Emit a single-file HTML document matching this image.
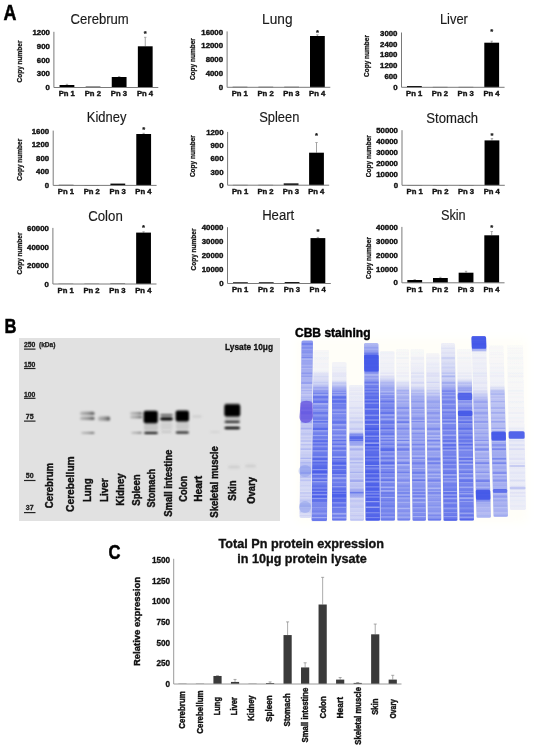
<!DOCTYPE html>
<html><head><meta charset="utf-8"><title>Figure</title>
<style>
html,body{margin:0;padding:0;background:#fff;}
svg{display:block;filter:blur(0.3px);}
text{font-family:"Liberation Sans", sans-serif;}
</style></head><body>
<svg width="550" height="748" viewBox="0 0 550 748">
<defs>
<filter id="blur1" x="-20%" y="-50%" width="140%" height="200%"><feGaussianBlur stdDeviation="1.0"/></filter>
<filter id="blur2" x="-5%" y="-5%" width="110%" height="110%"><feGaussianBlur stdDeviation="0.6"/></filter>
<filter id="blur3" x="-10%" y="-10%" width="120%" height="120%"><feGaussianBlur stdDeviation="4"/></filter>
</defs>
<rect width="550" height="748" fill="#fff"/>
<text x="3.40" y="19.80" font-size="21.2" font-weight="bold" textLength="12.90" lengthAdjust="spacingAndGlyphs" fill="#000" stroke="#000" stroke-width="0.5">A</text>
<text x="99.65" y="24.30" font-size="14" text-anchor="middle" textLength="58.30" lengthAdjust="spacingAndGlyphs" fill="#1a1a1a" stroke="#1a1a1a" stroke-width="0.15">Cerebrum</text>
<text x="49.90" y="90.00" font-size="8.1" font-weight="bold" text-anchor="end" textLength="4.36" lengthAdjust="spacingAndGlyphs" fill="#111" stroke="#111" stroke-width="0.42">0</text>
<text x="49.90" y="76.25" font-size="8.1" font-weight="bold" text-anchor="end" textLength="13.08" lengthAdjust="spacingAndGlyphs" fill="#111" stroke="#111" stroke-width="0.42">300</text>
<text x="49.90" y="62.50" font-size="8.1" font-weight="bold" text-anchor="end" textLength="13.08" lengthAdjust="spacingAndGlyphs" fill="#111" stroke="#111" stroke-width="0.42">600</text>
<text x="49.90" y="48.75" font-size="8.1" font-weight="bold" text-anchor="end" textLength="13.08" lengthAdjust="spacingAndGlyphs" fill="#111" stroke="#111" stroke-width="0.42">900</text>
<text x="49.90" y="35.00" font-size="8.1" font-weight="bold" text-anchor="end" textLength="17.44" lengthAdjust="spacingAndGlyphs" fill="#111" stroke="#111" stroke-width="0.42">1200</text>
<text transform="translate(22.30,61.50) rotate(-90)" x="0" y="0" font-size="6.5" font-weight="bold" text-anchor="middle" textLength="42.00" lengthAdjust="spacingAndGlyphs" fill="#111" stroke="#111" stroke-width="0.25">Copy number</text>
<line x1="66.95" y1="84.30" x2="66.95" y2="85.00" stroke="#999" stroke-width="0.9"/>
<line x1="65.75" y1="84.30" x2="68.15" y2="84.30" stroke="#999" stroke-width="0.8"/>
<rect x="59.55" y="85.00" width="14.80" height="2.50" fill="#000"/>
<text x="66.75" y="96.30" font-size="7.5" font-weight="bold" text-anchor="middle" textLength="16.20" lengthAdjust="spacingAndGlyphs" fill="#111" stroke="#111" stroke-width="0.4">Pn 1</text>
<rect x="85.65" y="86.60" width="14.80" height="0.90" fill="#000"/>
<text x="92.85" y="96.30" font-size="7.5" font-weight="bold" text-anchor="middle" textLength="16.20" lengthAdjust="spacingAndGlyphs" fill="#111" stroke="#111" stroke-width="0.4">Pn 2</text>
<line x1="119.15" y1="76.50" x2="119.15" y2="77.00" stroke="#999" stroke-width="0.9"/>
<line x1="117.95" y1="76.50" x2="120.35" y2="76.50" stroke="#999" stroke-width="0.8"/>
<rect x="111.75" y="77.00" width="14.80" height="10.50" fill="#000"/>
<text x="118.95" y="96.30" font-size="7.5" font-weight="bold" text-anchor="middle" textLength="16.20" lengthAdjust="spacingAndGlyphs" fill="#111" stroke="#111" stroke-width="0.4">Pn 3</text>
<line x1="145.25" y1="37.30" x2="145.25" y2="46.30" stroke="#999" stroke-width="0.9"/>
<line x1="144.05" y1="37.30" x2="146.45" y2="37.30" stroke="#999" stroke-width="0.8"/>
<rect x="137.85" y="46.30" width="14.80" height="41.20" fill="#000"/>
<text x="145.05" y="96.30" font-size="7.5" font-weight="bold" text-anchor="middle" textLength="16.20" lengthAdjust="spacingAndGlyphs" fill="#111" stroke="#111" stroke-width="0.4">Pn 4</text>
<text x="145.25" y="35.50" font-size="7.6" font-weight="bold" text-anchor="middle" fill="#111" stroke="#111" stroke-width="0.2">*</text>
<path d="M53.90,31.80 V87.50 H158.30" fill="none" stroke="#7a7a7a" stroke-width="1"/>
<text x="277.30" y="24.30" font-size="14" text-anchor="middle" textLength="30.40" lengthAdjust="spacingAndGlyphs" fill="#1a1a1a" stroke="#1a1a1a" stroke-width="0.15">Lung</text>
<text x="223.10" y="89.80" font-size="8.1" font-weight="bold" text-anchor="end" textLength="4.36" lengthAdjust="spacingAndGlyphs" fill="#111" stroke="#111" stroke-width="0.42">0</text>
<text x="223.10" y="76.00" font-size="8.1" font-weight="bold" text-anchor="end" textLength="17.44" lengthAdjust="spacingAndGlyphs" fill="#111" stroke="#111" stroke-width="0.42">4000</text>
<text x="223.10" y="62.20" font-size="8.1" font-weight="bold" text-anchor="end" textLength="17.44" lengthAdjust="spacingAndGlyphs" fill="#111" stroke="#111" stroke-width="0.42">8000</text>
<text x="223.10" y="48.40" font-size="8.1" font-weight="bold" text-anchor="end" textLength="21.80" lengthAdjust="spacingAndGlyphs" fill="#111" stroke="#111" stroke-width="0.42">12000</text>
<text x="223.10" y="34.60" font-size="8.1" font-weight="bold" text-anchor="end" textLength="21.80" lengthAdjust="spacingAndGlyphs" fill="#111" stroke="#111" stroke-width="0.42">16000</text>
<text transform="translate(194.70,59.10) rotate(-90)" x="0" y="0" font-size="6.5" font-weight="bold" text-anchor="middle" textLength="42.00" lengthAdjust="spacingAndGlyphs" fill="#111" stroke="#111" stroke-width="0.25">Copy number</text>
<rect x="232.60" y="86.80" width="14.80" height="0.50" fill="#000"/>
<text x="239.80" y="96.10" font-size="7.5" font-weight="bold" text-anchor="middle" textLength="16.20" lengthAdjust="spacingAndGlyphs" fill="#111" stroke="#111" stroke-width="0.4">Pn 1</text>
<rect x="258.40" y="86.80" width="14.80" height="0.50" fill="#000"/>
<text x="265.60" y="96.10" font-size="7.5" font-weight="bold" text-anchor="middle" textLength="16.20" lengthAdjust="spacingAndGlyphs" fill="#111" stroke="#111" stroke-width="0.4">Pn 2</text>
<rect x="284.20" y="86.80" width="14.80" height="0.50" fill="#000"/>
<text x="291.40" y="96.10" font-size="7.5" font-weight="bold" text-anchor="middle" textLength="16.20" lengthAdjust="spacingAndGlyphs" fill="#111" stroke="#111" stroke-width="0.4">Pn 3</text>
<line x1="317.40" y1="34.80" x2="317.40" y2="36.00" stroke="#999" stroke-width="0.9"/>
<line x1="316.20" y1="34.80" x2="318.60" y2="34.80" stroke="#999" stroke-width="0.8"/>
<rect x="310.00" y="36.00" width="14.80" height="51.30" fill="#000"/>
<text x="317.20" y="96.10" font-size="7.5" font-weight="bold" text-anchor="middle" textLength="16.20" lengthAdjust="spacingAndGlyphs" fill="#111" stroke="#111" stroke-width="0.4">Pn 4</text>
<text x="317.40" y="34.60" font-size="7.6" font-weight="bold" text-anchor="middle" fill="#111" stroke="#111" stroke-width="0.2">*</text>
<path d="M227.10,31.40 V87.30 H330.30" fill="none" stroke="#7a7a7a" stroke-width="1"/>
<text x="453.90" y="24.30" font-size="14" text-anchor="middle" textLength="28.00" lengthAdjust="spacingAndGlyphs" fill="#1a1a1a" stroke="#1a1a1a" stroke-width="0.15">Liver</text>
<text x="397.50" y="89.80" font-size="8.1" font-weight="bold" text-anchor="end" textLength="4.36" lengthAdjust="spacingAndGlyphs" fill="#111" stroke="#111" stroke-width="0.42">0</text>
<text x="397.50" y="78.98" font-size="8.1" font-weight="bold" text-anchor="end" textLength="13.08" lengthAdjust="spacingAndGlyphs" fill="#111" stroke="#111" stroke-width="0.42">600</text>
<text x="397.50" y="68.16" font-size="8.1" font-weight="bold" text-anchor="end" textLength="17.44" lengthAdjust="spacingAndGlyphs" fill="#111" stroke="#111" stroke-width="0.42">1200</text>
<text x="397.50" y="57.34" font-size="8.1" font-weight="bold" text-anchor="end" textLength="17.44" lengthAdjust="spacingAndGlyphs" fill="#111" stroke="#111" stroke-width="0.42">1800</text>
<text x="397.50" y="46.52" font-size="8.1" font-weight="bold" text-anchor="end" textLength="17.44" lengthAdjust="spacingAndGlyphs" fill="#111" stroke="#111" stroke-width="0.42">2400</text>
<text x="397.50" y="35.70" font-size="8.1" font-weight="bold" text-anchor="end" textLength="17.44" lengthAdjust="spacingAndGlyphs" fill="#111" stroke="#111" stroke-width="0.42">3000</text>
<text transform="translate(368.90,56.05) rotate(-90)" x="0" y="0" font-size="6.5" font-weight="bold" text-anchor="middle" textLength="42.00" lengthAdjust="spacingAndGlyphs" fill="#111" stroke="#111" stroke-width="0.25">Copy number</text>
<rect x="406.99" y="86.00" width="14.80" height="1.30" fill="#000"/>
<text x="414.19" y="96.10" font-size="7.5" font-weight="bold" text-anchor="middle" textLength="16.20" lengthAdjust="spacingAndGlyphs" fill="#111" stroke="#111" stroke-width="0.4">Pn 1</text>
<rect x="432.75" y="86.90" width="14.80" height="0.40" fill="#000"/>
<text x="439.95" y="96.10" font-size="7.5" font-weight="bold" text-anchor="middle" textLength="16.20" lengthAdjust="spacingAndGlyphs" fill="#111" stroke="#111" stroke-width="0.4">Pn 2</text>
<rect x="458.53" y="86.90" width="14.80" height="0.40" fill="#000"/>
<text x="465.73" y="96.10" font-size="7.5" font-weight="bold" text-anchor="middle" textLength="16.20" lengthAdjust="spacingAndGlyphs" fill="#111" stroke="#111" stroke-width="0.4">Pn 3</text>
<line x1="491.69" y1="41.20" x2="491.69" y2="42.70" stroke="#999" stroke-width="0.9"/>
<line x1="490.50" y1="41.20" x2="492.89" y2="41.20" stroke="#999" stroke-width="0.8"/>
<rect x="484.30" y="42.70" width="14.80" height="44.60" fill="#000"/>
<text x="491.50" y="96.10" font-size="7.5" font-weight="bold" text-anchor="middle" textLength="16.20" lengthAdjust="spacingAndGlyphs" fill="#111" stroke="#111" stroke-width="0.4">Pn 4</text>
<text x="491.69" y="34.10" font-size="7.6" font-weight="bold" text-anchor="middle" fill="#111" stroke="#111" stroke-width="0.2">*</text>
<path d="M401.50,32.50 V87.30 H504.58" fill="none" stroke="#7a7a7a" stroke-width="1"/>
<text x="106.60" y="122.20" font-size="14" text-anchor="middle" textLength="39.60" lengthAdjust="spacingAndGlyphs" fill="#1a1a1a" stroke="#1a1a1a" stroke-width="0.15">Kidney</text>
<text x="49.20" y="187.90" font-size="8.1" font-weight="bold" text-anchor="end" textLength="4.36" lengthAdjust="spacingAndGlyphs" fill="#111" stroke="#111" stroke-width="0.42">0</text>
<text x="49.20" y="174.38" font-size="8.1" font-weight="bold" text-anchor="end" textLength="13.08" lengthAdjust="spacingAndGlyphs" fill="#111" stroke="#111" stroke-width="0.42">400</text>
<text x="49.20" y="160.85" font-size="8.1" font-weight="bold" text-anchor="end" textLength="13.08" lengthAdjust="spacingAndGlyphs" fill="#111" stroke="#111" stroke-width="0.42">800</text>
<text x="49.20" y="147.33" font-size="8.1" font-weight="bold" text-anchor="end" textLength="17.44" lengthAdjust="spacingAndGlyphs" fill="#111" stroke="#111" stroke-width="0.42">1200</text>
<text x="49.20" y="133.80" font-size="8.1" font-weight="bold" text-anchor="end" textLength="17.44" lengthAdjust="spacingAndGlyphs" fill="#111" stroke="#111" stroke-width="0.42">1600</text>
<text transform="translate(21.70,159.80) rotate(-90)" x="0" y="0" font-size="6.5" font-weight="bold" text-anchor="middle" textLength="42.00" lengthAdjust="spacingAndGlyphs" fill="#111" stroke="#111" stroke-width="0.25">Copy number</text>
<rect x="58.73" y="184.80" width="14.80" height="0.60" fill="#000"/>
<text x="65.92" y="194.20" font-size="7.5" font-weight="bold" text-anchor="middle" textLength="16.20" lengthAdjust="spacingAndGlyphs" fill="#111" stroke="#111" stroke-width="0.4">Pn 1</text>
<rect x="84.58" y="185.00" width="14.80" height="0.40" fill="#000"/>
<text x="91.78" y="194.20" font-size="7.5" font-weight="bold" text-anchor="middle" textLength="16.20" lengthAdjust="spacingAndGlyphs" fill="#111" stroke="#111" stroke-width="0.4">Pn 2</text>
<rect x="110.42" y="183.60" width="14.80" height="1.80" fill="#000"/>
<text x="117.62" y="194.20" font-size="7.5" font-weight="bold" text-anchor="middle" textLength="16.20" lengthAdjust="spacingAndGlyphs" fill="#111" stroke="#111" stroke-width="0.4">Pn 3</text>
<line x1="143.68" y1="133.30" x2="143.68" y2="134.00" stroke="#999" stroke-width="0.9"/>
<line x1="142.48" y1="133.30" x2="144.88" y2="133.30" stroke="#999" stroke-width="0.8"/>
<rect x="136.28" y="134.00" width="14.80" height="51.40" fill="#000"/>
<text x="143.48" y="194.20" font-size="7.5" font-weight="bold" text-anchor="middle" textLength="16.20" lengthAdjust="spacingAndGlyphs" fill="#111" stroke="#111" stroke-width="0.4">Pn 4</text>
<text x="143.68" y="131.60" font-size="7.6" font-weight="bold" text-anchor="middle" fill="#111" stroke="#111" stroke-width="0.2">*</text>
<path d="M53.20,130.60 V185.40 H156.60" fill="none" stroke="#7a7a7a" stroke-width="1"/>
<text x="279.30" y="121.70" font-size="14" text-anchor="middle" textLength="40.10" lengthAdjust="spacingAndGlyphs" fill="#1a1a1a" stroke="#1a1a1a" stroke-width="0.15">Spleen</text>
<text x="223.60" y="187.70" font-size="8.1" font-weight="bold" text-anchor="end" textLength="4.36" lengthAdjust="spacingAndGlyphs" fill="#111" stroke="#111" stroke-width="0.42">0</text>
<text x="223.60" y="174.55" font-size="8.1" font-weight="bold" text-anchor="end" textLength="13.08" lengthAdjust="spacingAndGlyphs" fill="#111" stroke="#111" stroke-width="0.42">300</text>
<text x="223.60" y="161.40" font-size="8.1" font-weight="bold" text-anchor="end" textLength="13.08" lengthAdjust="spacingAndGlyphs" fill="#111" stroke="#111" stroke-width="0.42">600</text>
<text x="223.60" y="148.25" font-size="8.1" font-weight="bold" text-anchor="end" textLength="13.08" lengthAdjust="spacingAndGlyphs" fill="#111" stroke="#111" stroke-width="0.42">900</text>
<text x="223.60" y="135.10" font-size="8.1" font-weight="bold" text-anchor="end" textLength="17.44" lengthAdjust="spacingAndGlyphs" fill="#111" stroke="#111" stroke-width="0.42">1200</text>
<text transform="translate(195.10,156.10) rotate(-90)" x="0" y="0" font-size="6.5" font-weight="bold" text-anchor="middle" textLength="42.00" lengthAdjust="spacingAndGlyphs" fill="#111" stroke="#111" stroke-width="0.25">Copy number</text>
<rect x="232.90" y="184.90" width="14.80" height="0.30" fill="#000"/>
<text x="240.10" y="194.00" font-size="7.5" font-weight="bold" text-anchor="middle" textLength="16.20" lengthAdjust="spacingAndGlyphs" fill="#111" stroke="#111" stroke-width="0.4">Pn 1</text>
<rect x="258.30" y="184.90" width="14.80" height="0.30" fill="#000"/>
<text x="265.50" y="194.00" font-size="7.5" font-weight="bold" text-anchor="middle" textLength="16.20" lengthAdjust="spacingAndGlyphs" fill="#111" stroke="#111" stroke-width="0.4">Pn 2</text>
<rect x="283.70" y="183.40" width="14.80" height="1.80" fill="#000"/>
<text x="290.90" y="194.00" font-size="7.5" font-weight="bold" text-anchor="middle" textLength="16.20" lengthAdjust="spacingAndGlyphs" fill="#111" stroke="#111" stroke-width="0.4">Pn 3</text>
<line x1="316.50" y1="142.50" x2="316.50" y2="152.70" stroke="#999" stroke-width="0.9"/>
<line x1="315.30" y1="142.50" x2="317.70" y2="142.50" stroke="#999" stroke-width="0.8"/>
<rect x="309.10" y="152.70" width="14.80" height="32.50" fill="#000"/>
<text x="316.30" y="194.00" font-size="7.5" font-weight="bold" text-anchor="middle" textLength="16.20" lengthAdjust="spacingAndGlyphs" fill="#111" stroke="#111" stroke-width="0.4">Pn 4</text>
<text x="316.50" y="138.20" font-size="7.6" font-weight="bold" text-anchor="middle" fill="#111" stroke="#111" stroke-width="0.2">*</text>
<path d="M227.60,131.90 V185.20 H329.20" fill="none" stroke="#7a7a7a" stroke-width="1"/>
<text x="452.20" y="122.50" font-size="14" text-anchor="middle" textLength="51.70" lengthAdjust="spacingAndGlyphs" fill="#1a1a1a" stroke="#1a1a1a" stroke-width="0.15">Stomach</text>
<text x="398.00" y="187.80" font-size="8.1" font-weight="bold" text-anchor="end" textLength="4.36" lengthAdjust="spacingAndGlyphs" fill="#111" stroke="#111" stroke-width="0.42">0</text>
<text x="398.00" y="176.92" font-size="8.1" font-weight="bold" text-anchor="end" textLength="21.80" lengthAdjust="spacingAndGlyphs" fill="#111" stroke="#111" stroke-width="0.42">10000</text>
<text x="398.00" y="166.04" font-size="8.1" font-weight="bold" text-anchor="end" textLength="21.80" lengthAdjust="spacingAndGlyphs" fill="#111" stroke="#111" stroke-width="0.42">20000</text>
<text x="398.00" y="155.16" font-size="8.1" font-weight="bold" text-anchor="end" textLength="21.80" lengthAdjust="spacingAndGlyphs" fill="#111" stroke="#111" stroke-width="0.42">30000</text>
<text x="398.00" y="144.28" font-size="8.1" font-weight="bold" text-anchor="end" textLength="21.80" lengthAdjust="spacingAndGlyphs" fill="#111" stroke="#111" stroke-width="0.42">40000</text>
<text x="398.00" y="133.40" font-size="8.1" font-weight="bold" text-anchor="end" textLength="21.80" lengthAdjust="spacingAndGlyphs" fill="#111" stroke="#111" stroke-width="0.42">50000</text>
<text transform="translate(370.80,156.20) rotate(-90)" x="0" y="0" font-size="6.5" font-weight="bold" text-anchor="middle" textLength="42.00" lengthAdjust="spacingAndGlyphs" fill="#111" stroke="#111" stroke-width="0.25">Copy number</text>
<rect x="407.45" y="185.00" width="14.80" height="0.30" fill="#000"/>
<text x="414.65" y="194.10" font-size="7.5" font-weight="bold" text-anchor="middle" textLength="16.20" lengthAdjust="spacingAndGlyphs" fill="#111" stroke="#111" stroke-width="0.4">Pn 1</text>
<rect x="433.15" y="185.00" width="14.80" height="0.30" fill="#000"/>
<text x="440.35" y="194.10" font-size="7.5" font-weight="bold" text-anchor="middle" textLength="16.20" lengthAdjust="spacingAndGlyphs" fill="#111" stroke="#111" stroke-width="0.4">Pn 2</text>
<rect x="458.85" y="185.00" width="14.80" height="0.30" fill="#000"/>
<text x="466.05" y="194.10" font-size="7.5" font-weight="bold" text-anchor="middle" textLength="16.20" lengthAdjust="spacingAndGlyphs" fill="#111" stroke="#111" stroke-width="0.4">Pn 3</text>
<line x1="491.95" y1="138.60" x2="491.95" y2="140.40" stroke="#999" stroke-width="0.9"/>
<line x1="490.75" y1="138.60" x2="493.15" y2="138.60" stroke="#999" stroke-width="0.8"/>
<rect x="484.55" y="140.40" width="14.80" height="44.90" fill="#000"/>
<text x="491.75" y="194.10" font-size="7.5" font-weight="bold" text-anchor="middle" textLength="16.20" lengthAdjust="spacingAndGlyphs" fill="#111" stroke="#111" stroke-width="0.4">Pn 4</text>
<text x="491.95" y="138.20" font-size="7.6" font-weight="bold" text-anchor="middle" fill="#111" stroke="#111" stroke-width="0.2">*</text>
<path d="M402.00,130.20 V185.30 H504.80" fill="none" stroke="#7a7a7a" stroke-width="1"/>
<text x="105.50" y="220.70" font-size="14" text-anchor="middle" textLength="34.60" lengthAdjust="spacingAndGlyphs" fill="#1a1a1a" stroke="#1a1a1a" stroke-width="0.15">Colon</text>
<text x="48.90" y="286.50" font-size="8.1" font-weight="bold" text-anchor="end" textLength="4.36" lengthAdjust="spacingAndGlyphs" fill="#111" stroke="#111" stroke-width="0.42">0</text>
<text x="48.90" y="268.03" font-size="8.1" font-weight="bold" text-anchor="end" textLength="21.80" lengthAdjust="spacingAndGlyphs" fill="#111" stroke="#111" stroke-width="0.42">20000</text>
<text x="48.90" y="249.57" font-size="8.1" font-weight="bold" text-anchor="end" textLength="21.80" lengthAdjust="spacingAndGlyphs" fill="#111" stroke="#111" stroke-width="0.42">40000</text>
<text x="48.90" y="231.10" font-size="8.1" font-weight="bold" text-anchor="end" textLength="21.80" lengthAdjust="spacingAndGlyphs" fill="#111" stroke="#111" stroke-width="0.42">60000</text>
<text transform="translate(21.70,253.50) rotate(-90)" x="0" y="0" font-size="6.5" font-weight="bold" text-anchor="middle" textLength="42.00" lengthAdjust="spacingAndGlyphs" fill="#111" stroke="#111" stroke-width="0.25">Copy number</text>
<rect x="58.45" y="283.80" width="14.80" height="0.20" fill="#000"/>
<text x="65.65" y="292.80" font-size="7.5" font-weight="bold" text-anchor="middle" textLength="16.20" lengthAdjust="spacingAndGlyphs" fill="#111" stroke="#111" stroke-width="0.4">Pn 1</text>
<rect x="84.35" y="283.80" width="14.80" height="0.20" fill="#000"/>
<text x="91.55" y="292.80" font-size="7.5" font-weight="bold" text-anchor="middle" textLength="16.20" lengthAdjust="spacingAndGlyphs" fill="#111" stroke="#111" stroke-width="0.4">Pn 2</text>
<rect x="110.25" y="283.60" width="14.80" height="0.40" fill="#000"/>
<text x="117.45" y="292.80" font-size="7.5" font-weight="bold" text-anchor="middle" textLength="16.20" lengthAdjust="spacingAndGlyphs" fill="#111" stroke="#111" stroke-width="0.4">Pn 3</text>
<line x1="143.55" y1="231.80" x2="143.55" y2="232.60" stroke="#999" stroke-width="0.9"/>
<line x1="142.35" y1="231.80" x2="144.75" y2="231.80" stroke="#999" stroke-width="0.8"/>
<rect x="136.15" y="232.60" width="14.80" height="51.40" fill="#000"/>
<text x="143.35" y="292.80" font-size="7.5" font-weight="bold" text-anchor="middle" textLength="16.20" lengthAdjust="spacingAndGlyphs" fill="#111" stroke="#111" stroke-width="0.4">Pn 4</text>
<text x="143.55" y="229.80" font-size="7.6" font-weight="bold" text-anchor="middle" fill="#111" stroke="#111" stroke-width="0.2">*</text>
<path d="M52.90,227.90 V284.00 H156.50" fill="none" stroke="#7a7a7a" stroke-width="1"/>
<text x="278.20" y="220.40" font-size="14" text-anchor="middle" textLength="32.10" lengthAdjust="spacingAndGlyphs" fill="#1a1a1a" stroke="#1a1a1a" stroke-width="0.15">Heart</text>
<text x="223.50" y="286.00" font-size="8.1" font-weight="bold" text-anchor="end" textLength="4.36" lengthAdjust="spacingAndGlyphs" fill="#111" stroke="#111" stroke-width="0.42">0</text>
<text x="223.50" y="272.10" font-size="8.1" font-weight="bold" text-anchor="end" textLength="21.80" lengthAdjust="spacingAndGlyphs" fill="#111" stroke="#111" stroke-width="0.42">10000</text>
<text x="223.50" y="258.20" font-size="8.1" font-weight="bold" text-anchor="end" textLength="21.80" lengthAdjust="spacingAndGlyphs" fill="#111" stroke="#111" stroke-width="0.42">20000</text>
<text x="223.50" y="244.30" font-size="8.1" font-weight="bold" text-anchor="end" textLength="21.80" lengthAdjust="spacingAndGlyphs" fill="#111" stroke="#111" stroke-width="0.42">30000</text>
<text x="223.50" y="230.40" font-size="8.1" font-weight="bold" text-anchor="end" textLength="21.80" lengthAdjust="spacingAndGlyphs" fill="#111" stroke="#111" stroke-width="0.42">40000</text>
<text transform="translate(195.50,249.50) rotate(-90)" x="0" y="0" font-size="6.5" font-weight="bold" text-anchor="middle" textLength="42.00" lengthAdjust="spacingAndGlyphs" fill="#111" stroke="#111" stroke-width="0.25">Copy number</text>
<rect x="233.01" y="282.30" width="14.80" height="1.20" fill="#000"/>
<text x="240.22" y="292.30" font-size="7.5" font-weight="bold" text-anchor="middle" textLength="16.20" lengthAdjust="spacingAndGlyphs" fill="#111" stroke="#111" stroke-width="0.4">Pn 1</text>
<rect x="258.85" y="282.30" width="14.80" height="1.20" fill="#000"/>
<text x="266.05" y="292.30" font-size="7.5" font-weight="bold" text-anchor="middle" textLength="16.20" lengthAdjust="spacingAndGlyphs" fill="#111" stroke="#111" stroke-width="0.4">Pn 2</text>
<rect x="284.68" y="282.10" width="14.80" height="1.40" fill="#000"/>
<text x="291.88" y="292.30" font-size="7.5" font-weight="bold" text-anchor="middle" textLength="16.20" lengthAdjust="spacingAndGlyphs" fill="#111" stroke="#111" stroke-width="0.4">Pn 3</text>
<line x1="317.90" y1="237.40" x2="317.90" y2="238.10" stroke="#999" stroke-width="0.9"/>
<line x1="316.70" y1="237.40" x2="319.10" y2="237.40" stroke="#999" stroke-width="0.8"/>
<rect x="310.50" y="238.10" width="14.80" height="45.40" fill="#000"/>
<text x="317.70" y="292.30" font-size="7.5" font-weight="bold" text-anchor="middle" textLength="16.20" lengthAdjust="spacingAndGlyphs" fill="#111" stroke="#111" stroke-width="0.4">Pn 4</text>
<text x="317.90" y="234.10" font-size="7.6" font-weight="bold" text-anchor="middle" fill="#111" stroke="#111" stroke-width="0.2">*</text>
<path d="M227.50,227.20 V283.50 H330.82" fill="none" stroke="#7a7a7a" stroke-width="1"/>
<text x="453.30" y="219.60" font-size="14" text-anchor="middle" textLength="24.80" lengthAdjust="spacingAndGlyphs" fill="#1a1a1a" stroke="#1a1a1a" stroke-width="0.15">Skin</text>
<text x="397.90" y="285.30" font-size="8.1" font-weight="bold" text-anchor="end" textLength="4.36" lengthAdjust="spacingAndGlyphs" fill="#111" stroke="#111" stroke-width="0.42">0</text>
<text x="397.90" y="271.50" font-size="8.1" font-weight="bold" text-anchor="end" textLength="21.80" lengthAdjust="spacingAndGlyphs" fill="#111" stroke="#111" stroke-width="0.42">10000</text>
<text x="397.90" y="257.70" font-size="8.1" font-weight="bold" text-anchor="end" textLength="21.80" lengthAdjust="spacingAndGlyphs" fill="#111" stroke="#111" stroke-width="0.42">20000</text>
<text x="397.90" y="243.90" font-size="8.1" font-weight="bold" text-anchor="end" textLength="21.80" lengthAdjust="spacingAndGlyphs" fill="#111" stroke="#111" stroke-width="0.42">30000</text>
<text x="397.90" y="230.10" font-size="8.1" font-weight="bold" text-anchor="end" textLength="21.80" lengthAdjust="spacingAndGlyphs" fill="#111" stroke="#111" stroke-width="0.42">40000</text>
<text transform="translate(370.50,258.00) rotate(-90)" x="0" y="0" font-size="6.5" font-weight="bold" text-anchor="middle" textLength="42.00" lengthAdjust="spacingAndGlyphs" fill="#111" stroke="#111" stroke-width="0.25">Copy number</text>
<line x1="414.73" y1="279.50" x2="414.73" y2="280.00" stroke="#999" stroke-width="0.9"/>
<line x1="413.53" y1="279.50" x2="415.93" y2="279.50" stroke="#999" stroke-width="0.8"/>
<rect x="407.33" y="280.00" width="14.80" height="2.80" fill="#000"/>
<text x="414.53" y="291.60" font-size="7.5" font-weight="bold" text-anchor="middle" textLength="16.20" lengthAdjust="spacingAndGlyphs" fill="#111" stroke="#111" stroke-width="0.4">Pn 1</text>
<line x1="440.39" y1="277.30" x2="440.39" y2="278.00" stroke="#999" stroke-width="0.9"/>
<line x1="439.19" y1="277.30" x2="441.59" y2="277.30" stroke="#999" stroke-width="0.8"/>
<rect x="432.99" y="278.00" width="14.80" height="4.80" fill="#000"/>
<text x="440.19" y="291.60" font-size="7.5" font-weight="bold" text-anchor="middle" textLength="16.20" lengthAdjust="spacingAndGlyphs" fill="#111" stroke="#111" stroke-width="0.4">Pn 2</text>
<line x1="466.05" y1="271.30" x2="466.05" y2="272.70" stroke="#999" stroke-width="0.9"/>
<line x1="464.85" y1="271.30" x2="467.25" y2="271.30" stroke="#999" stroke-width="0.8"/>
<rect x="458.65" y="272.70" width="14.80" height="10.10" fill="#000"/>
<text x="465.85" y="291.60" font-size="7.5" font-weight="bold" text-anchor="middle" textLength="16.20" lengthAdjust="spacingAndGlyphs" fill="#111" stroke="#111" stroke-width="0.4">Pn 3</text>
<line x1="491.71" y1="231.50" x2="491.71" y2="235.30" stroke="#999" stroke-width="0.9"/>
<line x1="490.51" y1="231.50" x2="492.91" y2="231.50" stroke="#999" stroke-width="0.8"/>
<rect x="484.31" y="235.30" width="14.80" height="47.50" fill="#000"/>
<text x="491.51" y="291.60" font-size="7.5" font-weight="bold" text-anchor="middle" textLength="16.20" lengthAdjust="spacingAndGlyphs" fill="#111" stroke="#111" stroke-width="0.4">Pn 4</text>
<text x="491.71" y="230.20" font-size="7.6" font-weight="bold" text-anchor="middle" fill="#111" stroke="#111" stroke-width="0.2">*</text>
<path d="M401.90,226.90 V282.80 H504.54" fill="none" stroke="#7a7a7a" stroke-width="1"/>
<text x="4.60" y="332.90" font-size="20.8" font-weight="bold" textLength="12.00" lengthAdjust="spacingAndGlyphs" fill="#000" stroke="#000" stroke-width="0.5">B</text>
<rect x="19" y="338" width="261" height="183" fill="#e1e1e1"/>
<g filter="url(#blur1)">
<rect x="143.6" y="410.8" width="14.2" height="12.5" rx="2" fill="#000" opacity="1.0"/>
<rect x="144.0" y="423.0" width="14.0" height="8.0" rx="2" fill="#000" opacity="0.12"/>
<rect x="144.0" y="432.0" width="14.0" height="2.0" rx="2" fill="#000" opacity="0.95"/>
<rect x="160.0" y="413.9" width="13.0" height="2.2" rx="2" fill="#000" opacity="0.6"/>
<rect x="160.0" y="417.2" width="13.0" height="3.2" rx="2" fill="#000" opacity="1.0"/>
<rect x="160.5" y="422.0" width="12.0" height="8.0" rx="2" fill="#000" opacity="0.07"/>
<rect x="161.0" y="431.2" width="11.0" height="1.5" rx="2" fill="#666" opacity="0.3"/>
<rect x="175.6" y="410.5" width="13.4" height="11.0" rx="2" fill="#000" opacity="1.0"/>
<rect x="176.0" y="422.0" width="13.0" height="8.0" rx="2" fill="#000" opacity="0.1"/>
<rect x="175.6" y="431.4" width="13.4" height="2.0" rx="2" fill="#000" opacity="0.95"/>
<rect x="192.0" y="415.6" width="10.0" height="2.0" rx="2" fill="#888" opacity="0.25"/>
<rect x="224.3" y="404.5" width="16.0" height="12.0" rx="2" fill="#000" opacity="1.0"/>
<rect x="224.5" y="403.5" width="15.5" height="2.0" rx="2" fill="#000" opacity="0.5"/>
<rect x="225.0" y="416.0" width="15.0" height="6.0" rx="2" fill="#000" opacity="0.15"/>
<rect x="224.4" y="420.9" width="15.6" height="2.2" rx="2" fill="#000" opacity="0.85"/>
<rect x="224.4" y="426.8" width="15.6" height="2.4" rx="2" fill="#000" opacity="1.0"/>
<rect x="210.0" y="431.2" width="10.0" height="1.5" rx="2" fill="#888" opacity="0.2"/>
<rect x="228.0" y="465.5" width="12.0" height="3.0" rx="2" fill="#888" opacity="0.2"/>
<rect x="245.0" y="464.5" width="11.0" height="3.0" rx="2" fill="#888" opacity="0.2"/>
<linearGradient id="hg" x1="0" y1="0" x2="1" y2="0"><stop offset="0" stop-color="#000" stop-opacity="0.18"/><stop offset="0.55" stop-color="#000" stop-opacity="0.35"/><stop offset="1" stop-color="#000" stop-opacity="0.62"/></linearGradient>
<rect x="80.0" y="411.7" width="14.5" height="3.4" rx="1.5" fill="url(#hg)"/>
<rect x="80.0" y="416.7" width="14.5" height="3.4" rx="1.5" fill="url(#hg)"/>
<rect x="81.0" y="431.9" width="13.5" height="1.8" rx="1.5" fill="url(#hg)"/>
<rect x="98.0" y="416.5" width="12.0" height="4.2" rx="1.5" fill="url(#hg)"/>
<rect x="130.0" y="412.3" width="12.0" height="2.2" rx="1.5" fill="url(#hg)"/>
<rect x="130.0" y="416.1" width="12.0" height="2.2" rx="1.5" fill="url(#hg)"/>
<rect x="131.0" y="432.0" width="11.0" height="1.6" rx="1.5" fill="url(#hg)"/>
</g>
<text x="29.70" y="346.60" font-size="7" font-weight="bold" text-anchor="middle" textLength="11.40" lengthAdjust="spacingAndGlyphs" fill="#1a1a1a" stroke="#1a1a1a" stroke-width="0.3">250</text>
<line x1="24" y1="349.1" x2="35.5" y2="349.1" stroke="#222" stroke-width="1.2"/>
<text x="29.70" y="367.40" font-size="7" font-weight="bold" text-anchor="middle" textLength="11.40" lengthAdjust="spacingAndGlyphs" fill="#1a1a1a" stroke="#1a1a1a" stroke-width="0.3">150</text>
<line x1="24" y1="368.5" x2="35.5" y2="368.5" stroke="#222" stroke-width="1.2"/>
<text x="29.70" y="396.80" font-size="7" font-weight="bold" text-anchor="middle" textLength="11.40" lengthAdjust="spacingAndGlyphs" fill="#1a1a1a" stroke="#1a1a1a" stroke-width="0.3">100</text>
<line x1="24" y1="398.3" x2="35.5" y2="398.3" stroke="#222" stroke-width="1.2"/>
<text x="29.70" y="419.40" font-size="7" font-weight="bold" text-anchor="middle" textLength="7.80" lengthAdjust="spacingAndGlyphs" fill="#1a1a1a" stroke="#1a1a1a" stroke-width="0.3">75</text>
<line x1="24" y1="421.1" x2="35.5" y2="421.1" stroke="#222" stroke-width="1.2"/>
<text x="29.70" y="478.10" font-size="7" font-weight="bold" text-anchor="middle" textLength="7.80" lengthAdjust="spacingAndGlyphs" fill="#1a1a1a" stroke="#1a1a1a" stroke-width="0.3">50</text>
<line x1="24" y1="480.5" x2="35.5" y2="480.5" stroke="#222" stroke-width="1.2"/>
<text x="29.70" y="509.70" font-size="7" font-weight="bold" text-anchor="middle" textLength="7.80" lengthAdjust="spacingAndGlyphs" fill="#1a1a1a" stroke="#1a1a1a" stroke-width="0.3">37</text>
<line x1="24" y1="512.6" x2="35.5" y2="512.6" stroke="#222" stroke-width="1.2"/>
<text x="39.00" y="346.60" font-size="6.6" font-weight="bold" textLength="16.50" lengthAdjust="spacingAndGlyphs" fill="#1a1a1a" stroke="#1a1a1a" stroke-width="0.25">(kDa)</text>
<text x="225.00" y="350.20" font-size="9.3" font-weight="bold" textLength="48.00" lengthAdjust="spacingAndGlyphs" fill="#111" stroke="#111" stroke-width="0.3">Lysate 10μg</text>
<text transform="translate(53.30,508.20) rotate(-90)" x="0" y="0" font-size="10" font-weight="bold" textLength="45.30" lengthAdjust="spacingAndGlyphs" fill="#111" stroke="#111" stroke-width="0.4">Cerebrum</text>
<text transform="translate(74.10,511.90) rotate(-90)" x="0" y="0" font-size="10" font-weight="bold" textLength="55.60" lengthAdjust="spacingAndGlyphs" fill="#111" stroke="#111" stroke-width="0.4">Cerebellum</text>
<text transform="translate(91.20,502.10) rotate(-90)" x="0" y="0" font-size="10" font-weight="bold" textLength="23.80" lengthAdjust="spacingAndGlyphs" fill="#111" stroke="#111" stroke-width="0.4">Lung</text>
<text transform="translate(107.90,502.10) rotate(-90)" x="0" y="0" font-size="10" font-weight="bold" textLength="23.80" lengthAdjust="spacingAndGlyphs" fill="#111" stroke="#111" stroke-width="0.4">Liver</text>
<text transform="translate(124.30,505.70) rotate(-90)" x="0" y="0" font-size="10" font-weight="bold" textLength="32.40" lengthAdjust="spacingAndGlyphs" fill="#111" stroke="#111" stroke-width="0.4">Kidney</text>
<text transform="translate(139.60,505.70) rotate(-90)" x="0" y="0" font-size="10" font-weight="bold" textLength="31.20" lengthAdjust="spacingAndGlyphs" fill="#111" stroke="#111" stroke-width="0.4">Spleen</text>
<text transform="translate(154.60,507.50) rotate(-90)" x="0" y="0" font-size="10" font-weight="bold" textLength="38.60" lengthAdjust="spacingAndGlyphs" fill="#111" stroke="#111" stroke-width="0.4">Stomach</text>
<text transform="translate(171.50,516.70) rotate(-90)" x="0" y="0" font-size="10" font-weight="bold" textLength="66.90" lengthAdjust="spacingAndGlyphs" fill="#111" stroke="#111" stroke-width="0.4">Small intestine</text>
<text transform="translate(186.50,501.70) rotate(-90)" x="0" y="0" font-size="10" font-weight="bold" textLength="25.90" lengthAdjust="spacingAndGlyphs" fill="#111" stroke="#111" stroke-width="0.4">Colon</text>
<text transform="translate(201.50,501.70) rotate(-90)" x="0" y="0" font-size="10" font-weight="bold" textLength="25.90" lengthAdjust="spacingAndGlyphs" fill="#111" stroke="#111" stroke-width="0.4">Heart</text>
<text transform="translate(218.30,517.70) rotate(-90)" x="0" y="0" font-size="10" font-weight="bold" textLength="71.40" lengthAdjust="spacingAndGlyphs" fill="#111" stroke="#111" stroke-width="0.4">Skeletal muscle</text>
<text transform="translate(236.30,500.70) rotate(-90)" x="0" y="0" font-size="10" font-weight="bold" textLength="20.40" lengthAdjust="spacingAndGlyphs" fill="#111" stroke="#111" stroke-width="0.4">Skin</text>
<text transform="translate(254.70,503.70) rotate(-90)" x="0" y="0" font-size="10" font-weight="bold" textLength="26.60" lengthAdjust="spacingAndGlyphs" fill="#111" stroke="#111" stroke-width="0.4">Ovary</text>
<rect x="296" y="338" width="232" height="185" rx="6" fill="#fffef8" filter="url(#blur3)"/>
<text x="295.00" y="336.50" font-size="13" font-weight="bold" textLength="75.50" lengthAdjust="spacingAndGlyphs" fill="#000" stroke="#000" stroke-width="0.45">CBB staining</text>
<g filter="url(#blur2)">
<g transform="matrix(1,0,-0.01127,1,3.837,0)">
<linearGradient id="g347712782" x1="0" y1="340.5" x2="0" y2="518" gradientUnits="userSpaceOnUse"><stop offset="0.000" stop-color="rgb(68, 88, 232)" stop-opacity="0.6"/><stop offset="0.054" stop-color="rgb(68, 88, 232)" stop-opacity="0.65"/><stop offset="0.138" stop-color="rgb(68, 88, 232)" stop-opacity="0.5"/><stop offset="0.223" stop-color="rgb(68, 88, 232)" stop-opacity="0.45"/><stop offset="0.307" stop-color="rgb(68, 88, 232)" stop-opacity="0.35"/><stop offset="0.352" stop-color="rgb(68, 88, 232)" stop-opacity="0.5"/><stop offset="0.403" stop-color="rgb(68, 88, 232)" stop-opacity="0.8"/><stop offset="0.470" stop-color="rgb(68, 88, 232)" stop-opacity="0.35"/><stop offset="0.561" stop-color="rgb(68, 88, 232)" stop-opacity="0.25"/><stop offset="0.673" stop-color="rgb(68, 88, 232)" stop-opacity="0.3"/><stop offset="0.730" stop-color="rgb(68, 88, 232)" stop-opacity="0.45"/><stop offset="0.786" stop-color="rgb(68, 88, 232)" stop-opacity="0.25"/><stop offset="0.870" stop-color="rgb(68, 88, 232)" stop-opacity="0.2"/><stop offset="0.927" stop-color="rgb(68, 88, 232)" stop-opacity="0.4"/><stop offset="0.983" stop-color="rgb(68, 88, 232)" stop-opacity="0.2"/></linearGradient>
<rect x="301.5" y="340.5" width="11.5" height="177.5" rx="1.5" fill="url(#g347712782)"/>
<rect x="301.8" y="342.9" width="10.9" height="2.5" fill="rgb(68, 88, 232)" opacity="0.35"/>
<rect x="301.8" y="345.4" width="10.9" height="0.8" fill="#fff" opacity="0.24"/>
<rect x="301.8" y="347.4" width="10.9" height="1.2" fill="rgb(68, 88, 232)" opacity="0.28"/>
<rect x="301.8" y="348.5" width="10.9" height="1.7" fill="#fff" opacity="0.14"/>
<rect x="301.8" y="352.4" width="10.9" height="1.1" fill="rgb(68, 88, 232)" opacity="0.14"/>
<rect x="301.8" y="353.5" width="10.9" height="1.0" fill="#fff" opacity="0.20"/>
<rect x="301.8" y="357.1" width="10.9" height="1.1" fill="rgb(68, 88, 232)" opacity="0.29"/>
<rect x="301.8" y="358.2" width="10.9" height="1.7" fill="#fff" opacity="0.20"/>
<rect x="301.8" y="362.8" width="10.9" height="1.9" fill="rgb(68, 88, 232)" opacity="0.06"/>
<rect x="301.8" y="364.7" width="10.9" height="1.4" fill="#fff" opacity="0.09"/>
<rect x="301.8" y="366.7" width="10.9" height="1.4" fill="rgb(68, 88, 232)" opacity="0.10"/>
<rect x="301.8" y="368.1" width="10.9" height="0.9" fill="#fff" opacity="0.14"/>
<rect x="301.8" y="372.5" width="10.9" height="1.9" fill="rgb(68, 88, 232)" opacity="0.26"/>
<rect x="301.8" y="374.4" width="10.9" height="1.4" fill="#fff" opacity="0.17"/>
<rect x="301.8" y="375.5" width="10.9" height="1.2" fill="rgb(68, 88, 232)" opacity="0.33"/>
<rect x="301.8" y="376.6" width="10.9" height="1.0" fill="#fff" opacity="0.08"/>
<rect x="301.8" y="381.8" width="10.9" height="2.1" fill="rgb(68, 88, 232)" opacity="0.23"/>
<rect x="301.8" y="384.0" width="10.9" height="1.4" fill="#fff" opacity="0.13"/>
<rect x="301.8" y="386.9" width="10.9" height="1.9" fill="rgb(68, 88, 232)" opacity="0.11"/>
<rect x="301.8" y="388.8" width="10.9" height="1.3" fill="#fff" opacity="0.17"/>
<rect x="301.8" y="389.8" width="10.9" height="1.6" fill="rgb(68, 88, 232)" opacity="0.13"/>
<rect x="301.8" y="391.3" width="10.9" height="1.0" fill="#fff" opacity="0.15"/>
<rect x="301.8" y="392.8" width="10.9" height="1.1" fill="rgb(68, 88, 232)" opacity="0.07"/>
<rect x="301.8" y="393.9" width="10.9" height="1.3" fill="#fff" opacity="0.09"/>
<rect x="301.8" y="396.5" width="10.9" height="1.7" fill="rgb(68, 88, 232)" opacity="0.06"/>
<rect x="301.8" y="398.2" width="10.9" height="0.9" fill="#fff" opacity="0.11"/>
<rect x="301.8" y="401.0" width="10.9" height="1.3" fill="rgb(68, 88, 232)" opacity="0.15"/>
<rect x="301.8" y="402.3" width="10.9" height="1.7" fill="#fff" opacity="0.13"/>
<rect x="301.8" y="406.9" width="10.9" height="2.5" fill="rgb(68, 88, 232)" opacity="0.16"/>
<rect x="301.8" y="409.5" width="10.9" height="1.4" fill="#fff" opacity="0.24"/>
<rect x="301.8" y="412.1" width="10.9" height="2.3" fill="rgb(68, 88, 232)" opacity="0.28"/>
<rect x="301.8" y="414.4" width="10.9" height="1.2" fill="#fff" opacity="0.24"/>
<rect x="301.8" y="417.3" width="10.9" height="2.3" fill="rgb(68, 88, 232)" opacity="0.14"/>
<rect x="301.8" y="419.6" width="10.9" height="0.9" fill="#fff" opacity="0.14"/>
<rect x="301.8" y="421.2" width="10.9" height="2.1" fill="rgb(68, 88, 232)" opacity="0.19"/>
<rect x="301.8" y="423.3" width="10.9" height="1.5" fill="#fff" opacity="0.11"/>
<rect x="301.8" y="427.7" width="10.9" height="1.9" fill="rgb(68, 88, 232)" opacity="0.22"/>
<rect x="301.8" y="429.6" width="10.9" height="1.2" fill="#fff" opacity="0.12"/>
<rect x="301.8" y="433.1" width="10.9" height="2.4" fill="rgb(68, 88, 232)" opacity="0.08"/>
<rect x="301.8" y="435.5" width="10.9" height="1.7" fill="#fff" opacity="0.08"/>
<rect x="301.8" y="436.7" width="10.9" height="2.0" fill="rgb(68, 88, 232)" opacity="0.08"/>
<rect x="301.8" y="438.7" width="10.9" height="1.0" fill="#fff" opacity="0.06"/>
<rect x="301.8" y="439.8" width="10.9" height="2.2" fill="rgb(68, 88, 232)" opacity="0.13"/>
<rect x="301.8" y="442.0" width="10.9" height="1.7" fill="#fff" opacity="0.08"/>
<rect x="301.8" y="444.1" width="10.9" height="1.3" fill="rgb(68, 88, 232)" opacity="0.14"/>
<rect x="301.8" y="445.3" width="10.9" height="1.1" fill="#fff" opacity="0.05"/>
<rect x="301.8" y="448.3" width="10.9" height="1.7" fill="rgb(68, 88, 232)" opacity="0.18"/>
<rect x="301.8" y="450.0" width="10.9" height="1.5" fill="#fff" opacity="0.12"/>
<rect x="301.8" y="454.2" width="10.9" height="2.1" fill="rgb(68, 88, 232)" opacity="0.03"/>
<rect x="301.8" y="456.3" width="10.9" height="1.0" fill="#fff" opacity="0.05"/>
<rect x="301.8" y="457.8" width="10.9" height="1.2" fill="rgb(68, 88, 232)" opacity="0.21"/>
<rect x="301.8" y="459.0" width="10.9" height="0.8" fill="#fff" opacity="0.12"/>
<rect x="301.8" y="462.3" width="10.9" height="1.3" fill="rgb(68, 88, 232)" opacity="0.18"/>
<rect x="301.8" y="463.6" width="10.9" height="0.9" fill="#fff" opacity="0.10"/>
<rect x="301.8" y="466.6" width="10.9" height="2.0" fill="rgb(68, 88, 232)" opacity="0.06"/>
<rect x="301.8" y="468.6" width="10.9" height="0.9" fill="#fff" opacity="0.16"/>
<rect x="301.8" y="471.7" width="10.9" height="2.5" fill="rgb(68, 88, 232)" opacity="0.26"/>
<rect x="301.8" y="474.3" width="10.9" height="1.5" fill="#fff" opacity="0.12"/>
<rect x="301.8" y="475.5" width="10.9" height="2.4" fill="rgb(68, 88, 232)" opacity="0.09"/>
<rect x="301.8" y="477.9" width="10.9" height="1.5" fill="#fff" opacity="0.11"/>
<rect x="301.8" y="479.6" width="10.9" height="1.6" fill="rgb(68, 88, 232)" opacity="0.15"/>
<rect x="301.8" y="481.2" width="10.9" height="1.3" fill="#fff" opacity="0.07"/>
<rect x="301.8" y="485.2" width="10.9" height="1.3" fill="rgb(68, 88, 232)" opacity="0.07"/>
<rect x="301.8" y="486.5" width="10.9" height="1.2" fill="#fff" opacity="0.04"/>
<rect x="301.8" y="488.9" width="10.9" height="2.0" fill="rgb(68, 88, 232)" opacity="0.03"/>
<rect x="301.8" y="490.8" width="10.9" height="1.4" fill="#fff" opacity="0.07"/>
<rect x="301.8" y="491.9" width="10.9" height="2.5" fill="rgb(68, 88, 232)" opacity="0.13"/>
<rect x="301.8" y="494.4" width="10.9" height="0.9" fill="#fff" opacity="0.04"/>
<rect x="301.8" y="495.4" width="10.9" height="1.6" fill="rgb(68, 88, 232)" opacity="0.10"/>
<rect x="301.8" y="497.0" width="10.9" height="1.8" fill="#fff" opacity="0.07"/>
<rect x="301.8" y="499.8" width="10.9" height="1.8" fill="rgb(68, 88, 232)" opacity="0.05"/>
<rect x="301.8" y="501.6" width="10.9" height="1.3" fill="#fff" opacity="0.13"/>
<rect x="301.8" y="505.3" width="10.9" height="1.8" fill="rgb(68, 88, 232)" opacity="0.07"/>
<rect x="301.8" y="507.1" width="10.9" height="0.9" fill="#fff" opacity="0.15"/>
<rect x="301.8" y="510.5" width="10.9" height="2.2" fill="rgb(68, 88, 232)" opacity="0.06"/>
<rect x="301.8" y="512.7" width="10.9" height="1.5" fill="#fff" opacity="0.09"/>
<rect x="301.8" y="514.9" width="10.9" height="1.3" fill="rgb(68, 88, 232)" opacity="0.07"/>
<rect x="301.8" y="516.2" width="10.9" height="1.2" fill="#fff" opacity="0.07"/>
</g>
<g transform="matrix(1,0,-0.01170,1,4.094,0)">
<linearGradient id="g981556560" x1="0" y1="350" x2="0" y2="521" gradientUnits="userSpaceOnUse"><stop offset="0.000" stop-color="rgb(68, 88, 232)" stop-opacity="0.048"/><stop offset="0.117" stop-color="rgb(68, 88, 232)" stop-opacity="0.06"/><stop offset="0.193" stop-color="rgb(68, 88, 232)" stop-opacity="0.25"/><stop offset="0.234" stop-color="rgb(68, 88, 232)" stop-opacity="0.55"/><stop offset="0.275" stop-color="rgb(68, 88, 232)" stop-opacity="0.8"/><stop offset="0.322" stop-color="rgb(68, 88, 232)" stop-opacity="0.65"/><stop offset="0.468" stop-color="rgb(68, 88, 232)" stop-opacity="0.7"/><stop offset="0.643" stop-color="rgb(68, 88, 232)" stop-opacity="0.8"/><stop offset="0.713" stop-color="rgb(68, 88, 232)" stop-opacity="0.95"/><stop offset="0.760" stop-color="rgb(68, 88, 232)" stop-opacity="0.7"/><stop offset="0.842" stop-color="rgb(68, 88, 232)" stop-opacity="0.95"/><stop offset="0.906" stop-color="rgb(68, 88, 232)" stop-opacity="0.7"/><stop offset="0.994" stop-color="rgb(68, 88, 232)" stop-opacity="0.7"/></linearGradient>
<rect x="313.5" y="350.0" width="15.5" height="171.0" rx="1.5" fill="url(#g981556560)"/>
<rect x="313.8" y="352.4" width="14.9" height="1.0" fill="rgb(68, 88, 232)" opacity="0.01"/>
<rect x="313.8" y="353.4" width="14.9" height="1.8" fill="#fff" opacity="0.02"/>
<rect x="313.8" y="357.1" width="14.9" height="2.1" fill="rgb(68, 88, 232)" opacity="0.02"/>
<rect x="313.8" y="359.2" width="14.9" height="1.2" fill="#fff" opacity="0.01"/>
<rect x="313.8" y="362.8" width="14.9" height="2.2" fill="rgb(68, 88, 232)" opacity="0.01"/>
<rect x="313.8" y="365.0" width="14.9" height="1.6" fill="#fff" opacity="0.01"/>
<rect x="313.8" y="366.7" width="14.9" height="1.4" fill="rgb(68, 88, 232)" opacity="0.01"/>
<rect x="313.8" y="368.1" width="14.9" height="1.8" fill="#fff" opacity="0.02"/>
<rect x="313.8" y="372.5" width="14.9" height="2.3" fill="rgb(68, 88, 232)" opacity="0.06"/>
<rect x="313.8" y="374.8" width="14.9" height="1.5" fill="#fff" opacity="0.02"/>
<rect x="313.8" y="375.5" width="14.9" height="1.8" fill="rgb(68, 88, 232)" opacity="0.08"/>
<rect x="313.8" y="377.3" width="14.9" height="0.8" fill="#fff" opacity="0.02"/>
<rect x="313.8" y="381.8" width="14.9" height="1.4" fill="rgb(68, 88, 232)" opacity="0.09"/>
<rect x="313.8" y="383.3" width="14.9" height="1.5" fill="#fff" opacity="0.10"/>
<rect x="313.8" y="386.9" width="14.9" height="1.7" fill="rgb(68, 88, 232)" opacity="0.13"/>
<rect x="313.8" y="388.6" width="14.9" height="1.8" fill="#fff" opacity="0.18"/>
<rect x="313.8" y="389.8" width="14.9" height="1.6" fill="rgb(68, 88, 232)" opacity="0.17"/>
<rect x="313.8" y="391.4" width="14.9" height="1.0" fill="#fff" opacity="0.11"/>
<rect x="313.8" y="392.8" width="14.9" height="1.3" fill="rgb(68, 88, 232)" opacity="0.17"/>
<rect x="313.8" y="394.1" width="14.9" height="1.7" fill="#fff" opacity="0.26"/>
<rect x="313.8" y="396.5" width="14.9" height="1.8" fill="rgb(68, 88, 232)" opacity="0.13"/>
<rect x="313.8" y="398.3" width="14.9" height="1.6" fill="#fff" opacity="0.14"/>
<rect x="313.8" y="401.0" width="14.9" height="2.1" fill="rgb(68, 88, 232)" opacity="0.37"/>
<rect x="313.8" y="403.1" width="14.9" height="1.6" fill="#fff" opacity="0.27"/>
<rect x="313.8" y="406.9" width="14.9" height="1.8" fill="rgb(68, 88, 232)" opacity="0.19"/>
<rect x="313.8" y="408.7" width="14.9" height="1.6" fill="#fff" opacity="0.16"/>
<rect x="313.8" y="412.1" width="14.9" height="2.3" fill="rgb(68, 88, 232)" opacity="0.38"/>
<rect x="313.8" y="414.4" width="14.9" height="1.2" fill="#fff" opacity="0.18"/>
<rect x="313.8" y="417.3" width="14.9" height="2.5" fill="rgb(68, 88, 232)" opacity="0.31"/>
<rect x="313.8" y="419.9" width="14.9" height="1.0" fill="#fff" opacity="0.13"/>
<rect x="313.8" y="421.2" width="14.9" height="1.2" fill="rgb(68, 88, 232)" opacity="0.63"/>
<rect x="313.8" y="422.4" width="14.9" height="1.6" fill="#fff" opacity="0.13"/>
<rect x="313.8" y="427.7" width="14.9" height="2.3" fill="rgb(68, 88, 232)" opacity="0.58"/>
<rect x="313.8" y="430.0" width="14.9" height="1.5" fill="#fff" opacity="0.18"/>
<rect x="313.8" y="433.1" width="14.9" height="1.9" fill="rgb(68, 88, 232)" opacity="0.15"/>
<rect x="313.8" y="435.0" width="14.9" height="0.8" fill="#fff" opacity="0.31"/>
<rect x="313.8" y="436.7" width="14.9" height="2.0" fill="rgb(68, 88, 232)" opacity="0.22"/>
<rect x="313.8" y="438.8" width="14.9" height="1.7" fill="#fff" opacity="0.20"/>
<rect x="313.8" y="439.8" width="14.9" height="2.4" fill="rgb(68, 88, 232)" opacity="0.52"/>
<rect x="313.8" y="442.2" width="14.9" height="1.0" fill="#fff" opacity="0.17"/>
<rect x="313.8" y="444.1" width="14.9" height="1.5" fill="rgb(68, 88, 232)" opacity="0.34"/>
<rect x="313.8" y="445.5" width="14.9" height="1.4" fill="#fff" opacity="0.17"/>
<rect x="313.8" y="448.3" width="14.9" height="1.7" fill="rgb(68, 88, 232)" opacity="0.33"/>
<rect x="313.8" y="450.0" width="14.9" height="1.7" fill="#fff" opacity="0.19"/>
<rect x="313.8" y="454.2" width="14.9" height="1.7" fill="rgb(68, 88, 232)" opacity="0.11"/>
<rect x="313.8" y="456.0" width="14.9" height="1.7" fill="#fff" opacity="0.22"/>
<rect x="313.8" y="457.8" width="14.9" height="2.5" fill="rgb(68, 88, 232)" opacity="0.50"/>
<rect x="313.8" y="460.3" width="14.9" height="1.3" fill="#fff" opacity="0.24"/>
<rect x="313.8" y="462.3" width="14.9" height="1.0" fill="rgb(68, 88, 232)" opacity="0.52"/>
<rect x="313.8" y="463.4" width="14.9" height="1.0" fill="#fff" opacity="0.13"/>
<rect x="313.8" y="466.6" width="14.9" height="2.3" fill="rgb(68, 88, 232)" opacity="0.11"/>
<rect x="313.8" y="468.9" width="14.9" height="1.3" fill="#fff" opacity="0.32"/>
<rect x="313.8" y="471.7" width="14.9" height="1.9" fill="rgb(68, 88, 232)" opacity="0.44"/>
<rect x="313.8" y="473.6" width="14.9" height="1.3" fill="#fff" opacity="0.30"/>
<rect x="313.8" y="475.5" width="14.9" height="2.3" fill="rgb(68, 88, 232)" opacity="0.10"/>
<rect x="313.8" y="477.8" width="14.9" height="1.4" fill="#fff" opacity="0.19"/>
<rect x="313.8" y="479.6" width="14.9" height="1.4" fill="rgb(68, 88, 232)" opacity="0.58"/>
<rect x="313.8" y="481.0" width="14.9" height="1.3" fill="#fff" opacity="0.23"/>
<rect x="313.8" y="485.2" width="14.9" height="2.2" fill="rgb(68, 88, 232)" opacity="0.22"/>
<rect x="313.8" y="487.4" width="14.9" height="1.2" fill="#fff" opacity="0.26"/>
<rect x="313.8" y="488.9" width="14.9" height="1.8" fill="rgb(68, 88, 232)" opacity="0.16"/>
<rect x="313.8" y="490.7" width="14.9" height="1.5" fill="#fff" opacity="0.25"/>
<rect x="313.8" y="491.9" width="14.9" height="1.9" fill="rgb(68, 88, 232)" opacity="0.51"/>
<rect x="313.8" y="493.8" width="14.9" height="1.7" fill="#fff" opacity="0.33"/>
<rect x="313.8" y="495.4" width="14.9" height="2.4" fill="rgb(68, 88, 232)" opacity="0.56"/>
<rect x="313.8" y="497.8" width="14.9" height="1.1" fill="#fff" opacity="0.29"/>
<rect x="313.8" y="499.8" width="14.9" height="2.5" fill="rgb(68, 88, 232)" opacity="0.25"/>
<rect x="313.8" y="502.3" width="14.9" height="0.9" fill="#fff" opacity="0.15"/>
<rect x="313.8" y="505.3" width="14.9" height="1.7" fill="rgb(68, 88, 232)" opacity="0.09"/>
<rect x="313.8" y="507.0" width="14.9" height="1.0" fill="#fff" opacity="0.12"/>
<rect x="313.8" y="510.5" width="14.9" height="2.1" fill="rgb(68, 88, 232)" opacity="0.17"/>
<rect x="313.8" y="512.6" width="14.9" height="1.7" fill="#fff" opacity="0.14"/>
<rect x="313.8" y="514.9" width="14.9" height="2.1" fill="rgb(68, 88, 232)" opacity="0.20"/>
<rect x="313.8" y="517.0" width="14.9" height="0.9" fill="#fff" opacity="0.29"/>
<rect x="313.8" y="518.7" width="14.9" height="2.5" fill="rgb(68, 88, 232)" opacity="0.35"/>
<rect x="313.8" y="521.2" width="14.9" height="1.8" fill="#fff" opacity="0.19"/>
</g>
<g transform="matrix(1,0,0.00000,1,-0.000,0)">
<linearGradient id="g523192278" x1="0" y1="362" x2="0" y2="521" gradientUnits="userSpaceOnUse"><stop offset="0.000" stop-color="rgb(68, 88, 232)" stop-opacity="0.06"/><stop offset="0.113" stop-color="rgb(68, 88, 232)" stop-opacity="0.12"/><stop offset="0.176" stop-color="rgb(68, 88, 232)" stop-opacity="0.55"/><stop offset="0.226" stop-color="rgb(68, 88, 232)" stop-opacity="0.85"/><stop offset="0.302" stop-color="rgb(68, 88, 232)" stop-opacity="0.7"/><stop offset="0.491" stop-color="rgb(68, 88, 232)" stop-opacity="0.7"/><stop offset="0.679" stop-color="rgb(68, 88, 232)" stop-opacity="0.85"/><stop offset="0.742" stop-color="rgb(68, 88, 232)" stop-opacity="0.7"/><stop offset="0.830" stop-color="rgb(68, 88, 232)" stop-opacity="0.95"/><stop offset="0.994" stop-color="rgb(68, 88, 232)" stop-opacity="0.65"/></linearGradient>
<rect x="332.0" y="362.0" width="14.5" height="159.0" rx="1.5" fill="url(#g523192278)"/>
<rect x="332.3" y="366.7" width="13.9" height="1.3" fill="rgb(68, 88, 232)" opacity="0.02"/>
<rect x="332.3" y="368.0" width="13.9" height="1.0" fill="#fff" opacity="0.03"/>
<rect x="332.3" y="372.5" width="13.9" height="2.6" fill="rgb(68, 88, 232)" opacity="0.04"/>
<rect x="332.3" y="375.1" width="13.9" height="1.2" fill="#fff" opacity="0.02"/>
<rect x="332.3" y="375.5" width="13.9" height="1.1" fill="rgb(68, 88, 232)" opacity="0.06"/>
<rect x="332.3" y="376.6" width="13.9" height="1.1" fill="#fff" opacity="0.03"/>
<rect x="332.3" y="381.8" width="13.9" height="2.1" fill="rgb(68, 88, 232)" opacity="0.09"/>
<rect x="332.3" y="384.0" width="13.9" height="1.3" fill="#fff" opacity="0.05"/>
<rect x="332.3" y="386.9" width="13.9" height="2.5" fill="rgb(68, 88, 232)" opacity="0.06"/>
<rect x="332.3" y="389.5" width="13.9" height="1.7" fill="#fff" opacity="0.09"/>
<rect x="332.3" y="389.8" width="13.9" height="2.4" fill="rgb(68, 88, 232)" opacity="0.14"/>
<rect x="332.3" y="392.2" width="13.9" height="1.1" fill="#fff" opacity="0.23"/>
<rect x="332.3" y="392.8" width="13.9" height="1.3" fill="rgb(68, 88, 232)" opacity="0.19"/>
<rect x="332.3" y="394.1" width="13.9" height="1.6" fill="#fff" opacity="0.27"/>
<rect x="332.3" y="396.5" width="13.9" height="2.1" fill="rgb(68, 88, 232)" opacity="0.17"/>
<rect x="332.3" y="398.6" width="13.9" height="1.2" fill="#fff" opacity="0.25"/>
<rect x="332.3" y="401.0" width="13.9" height="1.8" fill="rgb(68, 88, 232)" opacity="0.30"/>
<rect x="332.3" y="402.8" width="13.9" height="1.1" fill="#fff" opacity="0.19"/>
<rect x="332.3" y="406.9" width="13.9" height="2.3" fill="rgb(68, 88, 232)" opacity="0.22"/>
<rect x="332.3" y="409.2" width="13.9" height="1.7" fill="#fff" opacity="0.17"/>
<rect x="332.3" y="412.1" width="13.9" height="1.0" fill="rgb(68, 88, 232)" opacity="0.18"/>
<rect x="332.3" y="413.1" width="13.9" height="1.1" fill="#fff" opacity="0.23"/>
<rect x="332.3" y="417.3" width="13.9" height="1.4" fill="rgb(68, 88, 232)" opacity="0.21"/>
<rect x="332.3" y="418.7" width="13.9" height="0.9" fill="#fff" opacity="0.11"/>
<rect x="332.3" y="421.2" width="13.9" height="2.6" fill="rgb(68, 88, 232)" opacity="0.44"/>
<rect x="332.3" y="423.8" width="13.9" height="1.7" fill="#fff" opacity="0.24"/>
<rect x="332.3" y="427.7" width="13.9" height="1.1" fill="rgb(68, 88, 232)" opacity="0.49"/>
<rect x="332.3" y="428.7" width="13.9" height="1.7" fill="#fff" opacity="0.31"/>
<rect x="332.3" y="433.1" width="13.9" height="1.4" fill="rgb(68, 88, 232)" opacity="0.15"/>
<rect x="332.3" y="434.5" width="13.9" height="1.7" fill="#fff" opacity="0.24"/>
<rect x="332.3" y="436.7" width="13.9" height="1.8" fill="rgb(68, 88, 232)" opacity="0.15"/>
<rect x="332.3" y="438.6" width="13.9" height="1.2" fill="#fff" opacity="0.25"/>
<rect x="332.3" y="439.8" width="13.9" height="1.4" fill="rgb(68, 88, 232)" opacity="0.49"/>
<rect x="332.3" y="441.2" width="13.9" height="1.8" fill="#fff" opacity="0.11"/>
<rect x="332.3" y="444.1" width="13.9" height="1.0" fill="rgb(68, 88, 232)" opacity="0.43"/>
<rect x="332.3" y="445.1" width="13.9" height="1.8" fill="#fff" opacity="0.22"/>
<rect x="332.3" y="448.3" width="13.9" height="1.4" fill="rgb(68, 88, 232)" opacity="0.46"/>
<rect x="332.3" y="449.7" width="13.9" height="1.5" fill="#fff" opacity="0.26"/>
<rect x="332.3" y="454.2" width="13.9" height="2.1" fill="rgb(68, 88, 232)" opacity="0.11"/>
<rect x="332.3" y="456.3" width="13.9" height="1.7" fill="#fff" opacity="0.34"/>
<rect x="332.3" y="457.8" width="13.9" height="1.5" fill="rgb(68, 88, 232)" opacity="0.37"/>
<rect x="332.3" y="459.3" width="13.9" height="1.0" fill="#fff" opacity="0.17"/>
<rect x="332.3" y="462.3" width="13.9" height="2.4" fill="rgb(68, 88, 232)" opacity="0.65"/>
<rect x="332.3" y="464.8" width="13.9" height="0.9" fill="#fff" opacity="0.36"/>
<rect x="332.3" y="466.6" width="13.9" height="2.6" fill="rgb(68, 88, 232)" opacity="0.19"/>
<rect x="332.3" y="469.2" width="13.9" height="0.8" fill="#fff" opacity="0.28"/>
<rect x="332.3" y="471.7" width="13.9" height="2.4" fill="rgb(68, 88, 232)" opacity="0.43"/>
<rect x="332.3" y="474.2" width="13.9" height="0.9" fill="#fff" opacity="0.29"/>
<rect x="332.3" y="475.5" width="13.9" height="1.6" fill="rgb(68, 88, 232)" opacity="0.14"/>
<rect x="332.3" y="477.2" width="13.9" height="1.8" fill="#fff" opacity="0.25"/>
<rect x="332.3" y="479.6" width="13.9" height="2.1" fill="rgb(68, 88, 232)" opacity="0.28"/>
<rect x="332.3" y="481.7" width="13.9" height="1.0" fill="#fff" opacity="0.16"/>
<rect x="332.3" y="485.2" width="13.9" height="1.0" fill="rgb(68, 88, 232)" opacity="0.14"/>
<rect x="332.3" y="486.2" width="13.9" height="1.1" fill="#fff" opacity="0.35"/>
<rect x="332.3" y="488.9" width="13.9" height="1.5" fill="rgb(68, 88, 232)" opacity="0.10"/>
<rect x="332.3" y="490.4" width="13.9" height="1.7" fill="#fff" opacity="0.18"/>
<rect x="332.3" y="491.9" width="13.9" height="1.3" fill="rgb(68, 88, 232)" opacity="0.44"/>
<rect x="332.3" y="493.2" width="13.9" height="0.9" fill="#fff" opacity="0.21"/>
<rect x="332.3" y="495.4" width="13.9" height="2.0" fill="rgb(68, 88, 232)" opacity="0.32"/>
<rect x="332.3" y="497.4" width="13.9" height="1.6" fill="#fff" opacity="0.17"/>
<rect x="332.3" y="499.8" width="13.9" height="2.3" fill="rgb(68, 88, 232)" opacity="0.14"/>
<rect x="332.3" y="502.1" width="13.9" height="1.4" fill="#fff" opacity="0.24"/>
<rect x="332.3" y="505.3" width="13.9" height="1.5" fill="rgb(68, 88, 232)" opacity="0.19"/>
<rect x="332.3" y="506.8" width="13.9" height="0.9" fill="#fff" opacity="0.36"/>
<rect x="332.3" y="510.5" width="13.9" height="2.4" fill="rgb(68, 88, 232)" opacity="0.10"/>
<rect x="332.3" y="512.9" width="13.9" height="1.7" fill="#fff" opacity="0.29"/>
<rect x="332.3" y="514.9" width="13.9" height="2.0" fill="rgb(68, 88, 232)" opacity="0.22"/>
<rect x="332.3" y="516.8" width="13.9" height="1.5" fill="#fff" opacity="0.21"/>
<rect x="332.3" y="518.7" width="13.9" height="1.5" fill="rgb(68, 88, 232)" opacity="0.48"/>
<rect x="332.3" y="520.1" width="13.9" height="0.9" fill="#fff" opacity="0.26"/>
</g>
<g transform="matrix(1,0,0.00735,1,-2.831,0)">
<linearGradient id="g767737212" x1="0" y1="385" x2="0" y2="521" gradientUnits="userSpaceOnUse"><stop offset="0.000" stop-color="rgb(68, 88, 232)" stop-opacity="0.08"/><stop offset="0.184" stop-color="rgb(68, 88, 232)" stop-opacity="0.15"/><stop offset="0.346" stop-color="rgb(68, 88, 232)" stop-opacity="0.25"/><stop offset="0.375" stop-color="rgb(68, 88, 232)" stop-opacity="0.85"/><stop offset="0.404" stop-color="rgb(68, 88, 232)" stop-opacity="0.85"/><stop offset="0.449" stop-color="rgb(68, 88, 232)" stop-opacity="0.3"/><stop offset="0.757" stop-color="rgb(68, 88, 232)" stop-opacity="0.35"/><stop offset="0.794" stop-color="rgb(68, 88, 232)" stop-opacity="0.65"/><stop offset="0.831" stop-color="rgb(68, 88, 232)" stop-opacity="0.3"/><stop offset="0.993" stop-color="rgb(68, 88, 232)" stop-opacity="0.25"/></linearGradient>
<rect x="349.0" y="385.0" width="14.0" height="136.0" rx="1.5" fill="url(#g767737212)"/>
<rect x="349.3" y="386.9" width="13.4" height="2.4" fill="rgb(68, 88, 232)" opacity="0.02"/>
<rect x="349.3" y="389.3" width="13.4" height="1.5" fill="#fff" opacity="0.03"/>
<rect x="349.3" y="389.8" width="13.4" height="1.2" fill="rgb(68, 88, 232)" opacity="0.04"/>
<rect x="349.3" y="391.0" width="13.4" height="1.3" fill="#fff" opacity="0.04"/>
<rect x="349.3" y="392.8" width="13.4" height="2.3" fill="rgb(68, 88, 232)" opacity="0.03"/>
<rect x="349.3" y="395.1" width="13.4" height="1.4" fill="#fff" opacity="0.04"/>
<rect x="349.3" y="396.5" width="13.4" height="2.1" fill="rgb(68, 88, 232)" opacity="0.02"/>
<rect x="349.3" y="398.6" width="13.4" height="1.0" fill="#fff" opacity="0.02"/>
<rect x="349.3" y="401.0" width="13.4" height="1.2" fill="rgb(68, 88, 232)" opacity="0.04"/>
<rect x="349.3" y="402.2" width="13.4" height="0.9" fill="#fff" opacity="0.05"/>
<rect x="349.3" y="406.9" width="13.4" height="1.9" fill="rgb(68, 88, 232)" opacity="0.07"/>
<rect x="349.3" y="408.8" width="13.4" height="1.4" fill="#fff" opacity="0.05"/>
<rect x="349.3" y="412.1" width="13.4" height="1.8" fill="rgb(68, 88, 232)" opacity="0.04"/>
<rect x="349.3" y="413.9" width="13.4" height="1.6" fill="#fff" opacity="0.06"/>
<rect x="349.3" y="417.3" width="13.4" height="1.8" fill="rgb(68, 88, 232)" opacity="0.07"/>
<rect x="349.3" y="419.1" width="13.4" height="1.5" fill="#fff" opacity="0.03"/>
<rect x="349.3" y="421.2" width="13.4" height="2.2" fill="rgb(68, 88, 232)" opacity="0.11"/>
<rect x="349.3" y="423.3" width="13.4" height="0.9" fill="#fff" opacity="0.05"/>
<rect x="349.3" y="427.7" width="13.4" height="2.2" fill="rgb(68, 88, 232)" opacity="0.10"/>
<rect x="349.3" y="429.8" width="13.4" height="1.5" fill="#fff" opacity="0.10"/>
<rect x="349.3" y="433.1" width="13.4" height="1.8" fill="rgb(68, 88, 232)" opacity="0.11"/>
<rect x="349.3" y="434.9" width="13.4" height="1.3" fill="#fff" opacity="0.15"/>
<rect x="349.3" y="436.7" width="13.4" height="2.2" fill="rgb(68, 88, 232)" opacity="0.27"/>
<rect x="349.3" y="438.9" width="13.4" height="1.4" fill="#fff" opacity="0.15"/>
<rect x="349.3" y="439.8" width="13.4" height="1.2" fill="rgb(68, 88, 232)" opacity="0.36"/>
<rect x="349.3" y="441.0" width="13.4" height="1.5" fill="#fff" opacity="0.21"/>
<rect x="349.3" y="444.1" width="13.4" height="1.9" fill="rgb(68, 88, 232)" opacity="0.16"/>
<rect x="349.3" y="446.0" width="13.4" height="0.9" fill="#fff" opacity="0.11"/>
<rect x="349.3" y="448.3" width="13.4" height="2.1" fill="rgb(68, 88, 232)" opacity="0.23"/>
<rect x="349.3" y="450.4" width="13.4" height="1.5" fill="#fff" opacity="0.07"/>
<rect x="349.3" y="454.2" width="13.4" height="1.8" fill="rgb(68, 88, 232)" opacity="0.04"/>
<rect x="349.3" y="456.1" width="13.4" height="1.3" fill="#fff" opacity="0.06"/>
<rect x="349.3" y="457.8" width="13.4" height="2.4" fill="rgb(68, 88, 232)" opacity="0.14"/>
<rect x="349.3" y="460.2" width="13.4" height="1.8" fill="#fff" opacity="0.14"/>
<rect x="349.3" y="462.3" width="13.4" height="1.0" fill="rgb(68, 88, 232)" opacity="0.20"/>
<rect x="349.3" y="463.4" width="13.4" height="1.6" fill="#fff" opacity="0.14"/>
<rect x="349.3" y="466.6" width="13.4" height="1.7" fill="rgb(68, 88, 232)" opacity="0.04"/>
<rect x="349.3" y="468.3" width="13.4" height="1.0" fill="#fff" opacity="0.14"/>
<rect x="349.3" y="471.7" width="13.4" height="1.3" fill="rgb(68, 88, 232)" opacity="0.20"/>
<rect x="349.3" y="473.1" width="13.4" height="0.9" fill="#fff" opacity="0.10"/>
<rect x="349.3" y="475.5" width="13.4" height="2.5" fill="rgb(68, 88, 232)" opacity="0.04"/>
<rect x="349.3" y="478.1" width="13.4" height="1.6" fill="#fff" opacity="0.10"/>
<rect x="349.3" y="479.6" width="13.4" height="2.4" fill="rgb(68, 88, 232)" opacity="0.26"/>
<rect x="349.3" y="482.0" width="13.4" height="1.0" fill="#fff" opacity="0.14"/>
<rect x="349.3" y="485.2" width="13.4" height="1.8" fill="rgb(68, 88, 232)" opacity="0.04"/>
<rect x="349.3" y="487.0" width="13.4" height="0.8" fill="#fff" opacity="0.10"/>
<rect x="349.3" y="488.9" width="13.4" height="1.7" fill="rgb(68, 88, 232)" opacity="0.06"/>
<rect x="349.3" y="490.6" width="13.4" height="0.9" fill="#fff" opacity="0.10"/>
<rect x="349.3" y="491.9" width="13.4" height="1.5" fill="rgb(68, 88, 232)" opacity="0.43"/>
<rect x="349.3" y="493.4" width="13.4" height="0.8" fill="#fff" opacity="0.22"/>
<rect x="349.3" y="495.4" width="13.4" height="2.3" fill="rgb(68, 88, 232)" opacity="0.14"/>
<rect x="349.3" y="497.7" width="13.4" height="1.7" fill="#fff" opacity="0.18"/>
<rect x="349.3" y="499.8" width="13.4" height="2.4" fill="rgb(68, 88, 232)" opacity="0.06"/>
<rect x="349.3" y="502.3" width="13.4" height="1.2" fill="#fff" opacity="0.08"/>
<rect x="349.3" y="505.3" width="13.4" height="2.6" fill="rgb(68, 88, 232)" opacity="0.06"/>
<rect x="349.3" y="507.9" width="13.4" height="1.2" fill="#fff" opacity="0.08"/>
<rect x="349.3" y="510.5" width="13.4" height="1.4" fill="rgb(68, 88, 232)" opacity="0.03"/>
<rect x="349.3" y="512.0" width="13.4" height="0.9" fill="#fff" opacity="0.11"/>
<rect x="349.3" y="514.9" width="13.4" height="1.5" fill="rgb(68, 88, 232)" opacity="0.09"/>
<rect x="349.3" y="516.3" width="13.4" height="1.0" fill="#fff" opacity="0.06"/>
<rect x="349.3" y="518.7" width="13.4" height="1.8" fill="rgb(68, 88, 232)" opacity="0.12"/>
<rect x="349.3" y="520.5" width="13.4" height="1.2" fill="#fff" opacity="0.11"/>
</g>
<g transform="matrix(1,0,0.00843,1,-2.890,0)">
<linearGradient id="g949473991" x1="0" y1="343" x2="0" y2="521" gradientUnits="userSpaceOnUse"><stop offset="0.000" stop-color="rgb(68, 88, 232)" stop-opacity="0.4"/><stop offset="0.051" stop-color="rgb(68, 88, 232)" stop-opacity="0.6"/><stop offset="0.062" stop-color="rgb(68, 88, 232)" stop-opacity="0.8"/><stop offset="0.157" stop-color="rgb(68, 88, 232)" stop-opacity="0.8"/><stop offset="0.174" stop-color="rgb(68, 88, 232)" stop-opacity="0.4"/><stop offset="0.236" stop-color="rgb(68, 88, 232)" stop-opacity="0.75"/><stop offset="0.320" stop-color="rgb(68, 88, 232)" stop-opacity="0.88"/><stop offset="0.657" stop-color="rgb(68, 88, 232)" stop-opacity="0.88"/><stop offset="0.826" stop-color="rgb(68, 88, 232)" stop-opacity="0.95"/><stop offset="0.994" stop-color="rgb(68, 88, 232)" stop-opacity="0.9"/></linearGradient>
<rect x="364.0" y="343.0" width="14.5" height="178.0" rx="1.5" fill="url(#g949473991)"/>
<rect x="364.3" y="347.4" width="13.9" height="1.0" fill="rgb(68, 88, 232)" opacity="0.25"/>
<rect x="364.3" y="348.4" width="13.9" height="1.2" fill="#fff" opacity="0.21"/>
<rect x="364.3" y="352.4" width="13.9" height="1.9" fill="rgb(68, 88, 232)" opacity="0.11"/>
<rect x="364.3" y="354.3" width="13.9" height="0.9" fill="#fff" opacity="0.27"/>
<rect x="364.3" y="357.1" width="13.9" height="1.7" fill="rgb(68, 88, 232)" opacity="0.42"/>
<rect x="364.3" y="358.7" width="13.9" height="0.9" fill="#fff" opacity="0.33"/>
<rect x="364.3" y="362.8" width="13.9" height="1.8" fill="rgb(68, 88, 232)" opacity="0.20"/>
<rect x="364.3" y="364.6" width="13.9" height="1.4" fill="#fff" opacity="0.16"/>
<rect x="364.3" y="366.7" width="13.9" height="1.7" fill="rgb(68, 88, 232)" opacity="0.12"/>
<rect x="364.3" y="368.4" width="13.9" height="1.1" fill="#fff" opacity="0.30"/>
<rect x="364.3" y="372.5" width="13.9" height="2.0" fill="rgb(68, 88, 232)" opacity="0.28"/>
<rect x="364.3" y="374.6" width="13.9" height="1.0" fill="#fff" opacity="0.18"/>
<rect x="364.3" y="375.5" width="13.9" height="2.1" fill="rgb(68, 88, 232)" opacity="0.20"/>
<rect x="364.3" y="377.5" width="13.9" height="1.4" fill="#fff" opacity="0.08"/>
<rect x="364.3" y="381.8" width="13.9" height="1.8" fill="rgb(68, 88, 232)" opacity="0.40"/>
<rect x="364.3" y="383.6" width="13.9" height="1.4" fill="#fff" opacity="0.19"/>
<rect x="364.3" y="386.9" width="13.9" height="1.5" fill="rgb(68, 88, 232)" opacity="0.21"/>
<rect x="364.3" y="388.4" width="13.9" height="1.2" fill="#fff" opacity="0.24"/>
<rect x="364.3" y="389.8" width="13.9" height="1.4" fill="rgb(68, 88, 232)" opacity="0.24"/>
<rect x="364.3" y="391.2" width="13.9" height="1.4" fill="#fff" opacity="0.19"/>
<rect x="364.3" y="392.8" width="13.9" height="1.6" fill="rgb(68, 88, 232)" opacity="0.25"/>
<rect x="364.3" y="394.4" width="13.9" height="1.0" fill="#fff" opacity="0.13"/>
<rect x="364.3" y="396.5" width="13.9" height="2.4" fill="rgb(68, 88, 232)" opacity="0.12"/>
<rect x="364.3" y="398.9" width="13.9" height="1.5" fill="#fff" opacity="0.18"/>
<rect x="364.3" y="401.0" width="13.9" height="1.4" fill="rgb(68, 88, 232)" opacity="0.40"/>
<rect x="364.3" y="402.4" width="13.9" height="1.3" fill="#fff" opacity="0.28"/>
<rect x="364.3" y="406.9" width="13.9" height="1.6" fill="rgb(68, 88, 232)" opacity="0.43"/>
<rect x="364.3" y="408.5" width="13.9" height="1.3" fill="#fff" opacity="0.34"/>
<rect x="364.3" y="412.1" width="13.9" height="2.4" fill="rgb(68, 88, 232)" opacity="0.23"/>
<rect x="364.3" y="414.4" width="13.9" height="1.7" fill="#fff" opacity="0.23"/>
<rect x="364.3" y="417.3" width="13.9" height="2.0" fill="rgb(68, 88, 232)" opacity="0.32"/>
<rect x="364.3" y="419.4" width="13.9" height="1.1" fill="#fff" opacity="0.35"/>
<rect x="364.3" y="421.2" width="13.9" height="2.5" fill="rgb(68, 88, 232)" opacity="0.40"/>
<rect x="364.3" y="423.7" width="13.9" height="1.2" fill="#fff" opacity="0.33"/>
<rect x="364.3" y="427.7" width="13.9" height="2.3" fill="rgb(68, 88, 232)" opacity="0.73"/>
<rect x="364.3" y="429.9" width="13.9" height="1.3" fill="#fff" opacity="0.15"/>
<rect x="364.3" y="433.1" width="13.9" height="2.5" fill="rgb(68, 88, 232)" opacity="0.37"/>
<rect x="364.3" y="435.6" width="13.9" height="1.3" fill="#fff" opacity="0.26"/>
<rect x="364.3" y="436.7" width="13.9" height="1.7" fill="rgb(68, 88, 232)" opacity="0.32"/>
<rect x="364.3" y="438.4" width="13.9" height="1.0" fill="#fff" opacity="0.17"/>
<rect x="364.3" y="439.8" width="13.9" height="2.6" fill="rgb(68, 88, 232)" opacity="0.32"/>
<rect x="364.3" y="442.3" width="13.9" height="1.6" fill="#fff" opacity="0.32"/>
<rect x="364.3" y="444.1" width="13.9" height="2.4" fill="rgb(68, 88, 232)" opacity="0.70"/>
<rect x="364.3" y="446.4" width="13.9" height="0.9" fill="#fff" opacity="0.34"/>
<rect x="364.3" y="448.3" width="13.9" height="1.0" fill="rgb(68, 88, 232)" opacity="0.38"/>
<rect x="364.3" y="449.3" width="13.9" height="1.4" fill="#fff" opacity="0.14"/>
<rect x="364.3" y="454.2" width="13.9" height="2.1" fill="rgb(68, 88, 232)" opacity="0.17"/>
<rect x="364.3" y="456.4" width="13.9" height="1.4" fill="#fff" opacity="0.27"/>
<rect x="364.3" y="457.8" width="13.9" height="1.7" fill="rgb(68, 88, 232)" opacity="0.68"/>
<rect x="364.3" y="459.5" width="13.9" height="0.9" fill="#fff" opacity="0.21"/>
<rect x="364.3" y="462.3" width="13.9" height="2.5" fill="rgb(68, 88, 232)" opacity="0.43"/>
<rect x="364.3" y="464.9" width="13.9" height="1.1" fill="#fff" opacity="0.34"/>
<rect x="364.3" y="466.6" width="13.9" height="1.0" fill="rgb(68, 88, 232)" opacity="0.16"/>
<rect x="364.3" y="467.6" width="13.9" height="1.8" fill="#fff" opacity="0.21"/>
<rect x="364.3" y="471.7" width="13.9" height="1.5" fill="rgb(68, 88, 232)" opacity="0.66"/>
<rect x="364.3" y="473.2" width="13.9" height="1.0" fill="#fff" opacity="0.28"/>
<rect x="364.3" y="475.5" width="13.9" height="1.9" fill="rgb(68, 88, 232)" opacity="0.10"/>
<rect x="364.3" y="477.4" width="13.9" height="1.2" fill="#fff" opacity="0.32"/>
<rect x="364.3" y="479.6" width="13.9" height="1.1" fill="rgb(68, 88, 232)" opacity="0.44"/>
<rect x="364.3" y="480.7" width="13.9" height="1.7" fill="#fff" opacity="0.32"/>
<rect x="364.3" y="485.2" width="13.9" height="1.1" fill="rgb(68, 88, 232)" opacity="0.14"/>
<rect x="364.3" y="486.3" width="13.9" height="1.2" fill="#fff" opacity="0.25"/>
<rect x="364.3" y="488.9" width="13.9" height="1.8" fill="rgb(68, 88, 232)" opacity="0.21"/>
<rect x="364.3" y="490.7" width="13.9" height="1.5" fill="#fff" opacity="0.25"/>
<rect x="364.3" y="491.9" width="13.9" height="1.6" fill="rgb(68, 88, 232)" opacity="0.30"/>
<rect x="364.3" y="493.5" width="13.9" height="1.1" fill="#fff" opacity="0.38"/>
<rect x="364.3" y="495.4" width="13.9" height="1.1" fill="rgb(68, 88, 232)" opacity="0.41"/>
<rect x="364.3" y="496.5" width="13.9" height="1.0" fill="#fff" opacity="0.36"/>
<rect x="364.3" y="499.8" width="13.9" height="1.3" fill="rgb(68, 88, 232)" opacity="0.22"/>
<rect x="364.3" y="501.1" width="13.9" height="1.1" fill="#fff" opacity="0.39"/>
<rect x="364.3" y="505.3" width="13.9" height="1.2" fill="rgb(68, 88, 232)" opacity="0.21"/>
<rect x="364.3" y="506.5" width="13.9" height="1.4" fill="#fff" opacity="0.39"/>
<rect x="364.3" y="510.5" width="13.9" height="1.8" fill="rgb(68, 88, 232)" opacity="0.25"/>
<rect x="364.3" y="512.3" width="13.9" height="0.9" fill="#fff" opacity="0.30"/>
<rect x="364.3" y="514.9" width="13.9" height="2.5" fill="rgb(68, 88, 232)" opacity="0.14"/>
<rect x="364.3" y="517.3" width="13.9" height="0.8" fill="#fff" opacity="0.30"/>
<rect x="364.3" y="518.7" width="13.9" height="1.7" fill="rgb(68, 88, 232)" opacity="0.71"/>
<rect x="364.3" y="520.3" width="13.9" height="1.0" fill="#fff" opacity="0.26"/>
<rect x="364.0" y="354.5" width="14.5" height="17.0" rx="1.5" fill="rgb(68, 88, 232)" opacity="0.9"/>
</g>
<g transform="matrix(1,0,0.00294,1,-1.032,0)">
<linearGradient id="g764541482" x1="0" y1="351" x2="0" y2="521" gradientUnits="userSpaceOnUse"><stop offset="0.000" stop-color="rgb(68, 88, 232)" stop-opacity="0.06"/><stop offset="0.141" stop-color="rgb(68, 88, 232)" stop-opacity="0.09"/><stop offset="0.200" stop-color="rgb(68, 88, 232)" stop-opacity="0.45"/><stop offset="0.288" stop-color="rgb(68, 88, 232)" stop-opacity="0.7"/><stop offset="0.994" stop-color="rgb(68, 88, 232)" stop-opacity="0.72"/></linearGradient>
<rect x="380.0" y="351.0" width="14.5" height="170.0" rx="1.5" fill="url(#g764541482)"/>
<rect x="380.3" y="352.4" width="13.9" height="2.4" fill="rgb(68, 88, 232)" opacity="0.02"/>
<rect x="380.3" y="354.8" width="13.9" height="1.8" fill="#fff" opacity="0.03"/>
<rect x="380.3" y="357.1" width="13.9" height="1.5" fill="rgb(68, 88, 232)" opacity="0.02"/>
<rect x="380.3" y="358.6" width="13.9" height="1.7" fill="#fff" opacity="0.03"/>
<rect x="380.3" y="362.8" width="13.9" height="1.1" fill="rgb(68, 88, 232)" opacity="0.02"/>
<rect x="380.3" y="363.8" width="13.9" height="1.2" fill="#fff" opacity="0.02"/>
<rect x="380.3" y="366.7" width="13.9" height="1.5" fill="rgb(68, 88, 232)" opacity="0.01"/>
<rect x="380.3" y="368.2" width="13.9" height="0.8" fill="#fff" opacity="0.02"/>
<rect x="380.3" y="372.5" width="13.9" height="1.6" fill="rgb(68, 88, 232)" opacity="0.06"/>
<rect x="380.3" y="374.1" width="13.9" height="0.9" fill="#fff" opacity="0.04"/>
<rect x="380.3" y="375.5" width="13.9" height="1.3" fill="rgb(68, 88, 232)" opacity="0.06"/>
<rect x="380.3" y="376.8" width="13.9" height="1.6" fill="#fff" opacity="0.04"/>
<rect x="380.3" y="381.8" width="13.9" height="1.7" fill="rgb(68, 88, 232)" opacity="0.10"/>
<rect x="380.3" y="383.5" width="13.9" height="1.3" fill="#fff" opacity="0.09"/>
<rect x="380.3" y="386.9" width="13.9" height="2.5" fill="rgb(68, 88, 232)" opacity="0.08"/>
<rect x="380.3" y="389.4" width="13.9" height="1.2" fill="#fff" opacity="0.20"/>
<rect x="380.3" y="389.8" width="13.9" height="1.0" fill="rgb(68, 88, 232)" opacity="0.20"/>
<rect x="380.3" y="390.8" width="13.9" height="1.6" fill="#fff" opacity="0.20"/>
<rect x="380.3" y="392.8" width="13.9" height="1.1" fill="rgb(68, 88, 232)" opacity="0.08"/>
<rect x="380.3" y="393.9" width="13.9" height="0.9" fill="#fff" opacity="0.25"/>
<rect x="380.3" y="396.5" width="13.9" height="1.4" fill="rgb(68, 88, 232)" opacity="0.12"/>
<rect x="380.3" y="397.9" width="13.9" height="1.7" fill="#fff" opacity="0.16"/>
<rect x="380.3" y="401.0" width="13.9" height="1.4" fill="rgb(68, 88, 232)" opacity="0.37"/>
<rect x="380.3" y="402.4" width="13.9" height="1.4" fill="#fff" opacity="0.16"/>
<rect x="380.3" y="406.9" width="13.9" height="2.1" fill="rgb(68, 88, 232)" opacity="0.24"/>
<rect x="380.3" y="409.1" width="13.9" height="1.1" fill="#fff" opacity="0.11"/>
<rect x="380.3" y="412.1" width="13.9" height="2.2" fill="rgb(68, 88, 232)" opacity="0.39"/>
<rect x="380.3" y="414.3" width="13.9" height="1.4" fill="#fff" opacity="0.30"/>
<rect x="380.3" y="417.3" width="13.9" height="1.0" fill="rgb(68, 88, 232)" opacity="0.20"/>
<rect x="380.3" y="418.4" width="13.9" height="1.3" fill="#fff" opacity="0.31"/>
<rect x="380.3" y="421.2" width="13.9" height="2.5" fill="rgb(68, 88, 232)" opacity="0.43"/>
<rect x="380.3" y="423.7" width="13.9" height="1.1" fill="#fff" opacity="0.20"/>
<rect x="380.3" y="427.7" width="13.9" height="1.8" fill="rgb(68, 88, 232)" opacity="0.57"/>
<rect x="380.3" y="429.4" width="13.9" height="1.0" fill="#fff" opacity="0.28"/>
<rect x="380.3" y="433.1" width="13.9" height="2.2" fill="rgb(68, 88, 232)" opacity="0.28"/>
<rect x="380.3" y="435.3" width="13.9" height="1.6" fill="#fff" opacity="0.23"/>
<rect x="380.3" y="436.7" width="13.9" height="1.5" fill="rgb(68, 88, 232)" opacity="0.17"/>
<rect x="380.3" y="438.2" width="13.9" height="1.2" fill="#fff" opacity="0.27"/>
<rect x="380.3" y="439.8" width="13.9" height="1.1" fill="rgb(68, 88, 232)" opacity="0.28"/>
<rect x="380.3" y="440.9" width="13.9" height="1.6" fill="#fff" opacity="0.16"/>
<rect x="380.3" y="444.1" width="13.9" height="1.1" fill="rgb(68, 88, 232)" opacity="0.25"/>
<rect x="380.3" y="445.2" width="13.9" height="1.4" fill="#fff" opacity="0.18"/>
<rect x="380.3" y="448.3" width="13.9" height="2.6" fill="rgb(68, 88, 232)" opacity="0.62"/>
<rect x="380.3" y="450.9" width="13.9" height="1.8" fill="#fff" opacity="0.16"/>
<rect x="380.3" y="454.2" width="13.9" height="1.1" fill="rgb(68, 88, 232)" opacity="0.06"/>
<rect x="380.3" y="455.4" width="13.9" height="1.3" fill="#fff" opacity="0.26"/>
<rect x="380.3" y="457.8" width="13.9" height="1.7" fill="rgb(68, 88, 232)" opacity="0.34"/>
<rect x="380.3" y="459.5" width="13.9" height="1.2" fill="#fff" opacity="0.24"/>
<rect x="380.3" y="462.3" width="13.9" height="2.1" fill="rgb(68, 88, 232)" opacity="0.58"/>
<rect x="380.3" y="464.4" width="13.9" height="1.6" fill="#fff" opacity="0.25"/>
<rect x="380.3" y="466.6" width="13.9" height="1.2" fill="rgb(68, 88, 232)" opacity="0.16"/>
<rect x="380.3" y="467.8" width="13.9" height="1.1" fill="#fff" opacity="0.23"/>
<rect x="380.3" y="471.7" width="13.9" height="1.6" fill="rgb(68, 88, 232)" opacity="0.48"/>
<rect x="380.3" y="473.3" width="13.9" height="1.0" fill="#fff" opacity="0.16"/>
<rect x="380.3" y="475.5" width="13.9" height="1.4" fill="rgb(68, 88, 232)" opacity="0.09"/>
<rect x="380.3" y="476.9" width="13.9" height="1.7" fill="#fff" opacity="0.23"/>
<rect x="380.3" y="479.6" width="13.9" height="1.5" fill="rgb(68, 88, 232)" opacity="0.42"/>
<rect x="380.3" y="481.1" width="13.9" height="1.8" fill="#fff" opacity="0.22"/>
<rect x="380.3" y="485.2" width="13.9" height="1.4" fill="rgb(68, 88, 232)" opacity="0.18"/>
<rect x="380.3" y="486.5" width="13.9" height="1.5" fill="#fff" opacity="0.32"/>
<rect x="380.3" y="488.9" width="13.9" height="1.2" fill="rgb(68, 88, 232)" opacity="0.13"/>
<rect x="380.3" y="490.1" width="13.9" height="1.6" fill="#fff" opacity="0.29"/>
<rect x="380.3" y="491.9" width="13.9" height="2.5" fill="rgb(68, 88, 232)" opacity="0.24"/>
<rect x="380.3" y="494.4" width="13.9" height="1.1" fill="#fff" opacity="0.13"/>
<rect x="380.3" y="495.4" width="13.9" height="1.3" fill="rgb(68, 88, 232)" opacity="0.44"/>
<rect x="380.3" y="496.7" width="13.9" height="1.4" fill="#fff" opacity="0.31"/>
<rect x="380.3" y="499.8" width="13.9" height="1.6" fill="rgb(68, 88, 232)" opacity="0.23"/>
<rect x="380.3" y="501.4" width="13.9" height="1.2" fill="#fff" opacity="0.16"/>
<rect x="380.3" y="505.3" width="13.9" height="2.2" fill="rgb(68, 88, 232)" opacity="0.21"/>
<rect x="380.3" y="507.6" width="13.9" height="0.9" fill="#fff" opacity="0.24"/>
<rect x="380.3" y="510.5" width="13.9" height="2.0" fill="rgb(68, 88, 232)" opacity="0.11"/>
<rect x="380.3" y="512.5" width="13.9" height="1.2" fill="#fff" opacity="0.14"/>
<rect x="380.3" y="514.9" width="13.9" height="1.3" fill="rgb(68, 88, 232)" opacity="0.14"/>
<rect x="380.3" y="516.2" width="13.9" height="1.4" fill="#fff" opacity="0.25"/>
<rect x="380.3" y="518.7" width="13.9" height="1.3" fill="rgb(68, 88, 232)" opacity="0.27"/>
<rect x="380.3" y="520.0" width="13.9" height="1.1" fill="#fff" opacity="0.25"/>
</g>
<g transform="matrix(1,0,0.00756,1,-2.638,0)">
<linearGradient id="g198798035" x1="0" y1="349" x2="0" y2="521" gradientUnits="userSpaceOnUse"><stop offset="0.000" stop-color="rgb(68, 88, 232)" stop-opacity="0.03"/><stop offset="0.180" stop-color="rgb(68, 88, 232)" stop-opacity="0.072"/><stop offset="0.250" stop-color="rgb(68, 88, 232)" stop-opacity="0.4"/><stop offset="0.355" stop-color="rgb(68, 88, 232)" stop-opacity="0.55"/><stop offset="0.994" stop-color="rgb(68, 88, 232)" stop-opacity="0.62"/></linearGradient>
<rect x="396.0" y="349.0" width="13.0" height="172.0" rx="1.5" fill="url(#g198798035)"/>
<rect x="396.3" y="352.4" width="12.4" height="2.0" fill="rgb(68, 88, 232)" opacity="0.01"/>
<rect x="396.3" y="354.4" width="12.4" height="0.8" fill="#fff" opacity="0.01"/>
<rect x="396.3" y="357.1" width="12.4" height="1.8" fill="rgb(68, 88, 232)" opacity="0.02"/>
<rect x="396.3" y="358.8" width="12.4" height="1.6" fill="#fff" opacity="0.01"/>
<rect x="396.3" y="362.8" width="12.4" height="1.2" fill="rgb(68, 88, 232)" opacity="0.01"/>
<rect x="396.3" y="364.0" width="12.4" height="1.5" fill="#fff" opacity="0.01"/>
<rect x="396.3" y="366.7" width="12.4" height="1.4" fill="rgb(68, 88, 232)" opacity="0.01"/>
<rect x="396.3" y="368.2" width="12.4" height="1.5" fill="#fff" opacity="0.01"/>
<rect x="396.3" y="372.5" width="12.4" height="1.1" fill="rgb(68, 88, 232)" opacity="0.04"/>
<rect x="396.3" y="373.6" width="12.4" height="1.7" fill="#fff" opacity="0.02"/>
<rect x="396.3" y="375.5" width="12.4" height="1.0" fill="rgb(68, 88, 232)" opacity="0.05"/>
<rect x="396.3" y="376.5" width="12.4" height="1.6" fill="#fff" opacity="0.02"/>
<rect x="396.3" y="381.8" width="12.4" height="1.6" fill="rgb(68, 88, 232)" opacity="0.05"/>
<rect x="396.3" y="383.5" width="12.4" height="1.7" fill="#fff" opacity="0.03"/>
<rect x="396.3" y="386.9" width="12.4" height="1.3" fill="rgb(68, 88, 232)" opacity="0.04"/>
<rect x="396.3" y="388.2" width="12.4" height="0.9" fill="#fff" opacity="0.08"/>
<rect x="396.3" y="389.8" width="12.4" height="1.6" fill="rgb(68, 88, 232)" opacity="0.18"/>
<rect x="396.3" y="391.4" width="12.4" height="0.9" fill="#fff" opacity="0.06"/>
<rect x="396.3" y="392.8" width="12.4" height="1.2" fill="rgb(68, 88, 232)" opacity="0.12"/>
<rect x="396.3" y="394.0" width="12.4" height="1.2" fill="#fff" opacity="0.13"/>
<rect x="396.3" y="396.5" width="12.4" height="2.5" fill="rgb(68, 88, 232)" opacity="0.08"/>
<rect x="396.3" y="399.0" width="12.4" height="1.0" fill="#fff" opacity="0.11"/>
<rect x="396.3" y="401.0" width="12.4" height="1.3" fill="rgb(68, 88, 232)" opacity="0.13"/>
<rect x="396.3" y="402.3" width="12.4" height="0.9" fill="#fff" opacity="0.13"/>
<rect x="396.3" y="406.9" width="12.4" height="2.2" fill="rgb(68, 88, 232)" opacity="0.27"/>
<rect x="396.3" y="409.1" width="12.4" height="1.6" fill="#fff" opacity="0.13"/>
<rect x="396.3" y="412.1" width="12.4" height="2.3" fill="rgb(68, 88, 232)" opacity="0.13"/>
<rect x="396.3" y="414.4" width="12.4" height="1.7" fill="#fff" opacity="0.13"/>
<rect x="396.3" y="417.3" width="12.4" height="2.0" fill="rgb(68, 88, 232)" opacity="0.24"/>
<rect x="396.3" y="419.3" width="12.4" height="0.9" fill="#fff" opacity="0.20"/>
<rect x="396.3" y="421.2" width="12.4" height="2.1" fill="rgb(68, 88, 232)" opacity="0.51"/>
<rect x="396.3" y="423.3" width="12.4" height="1.4" fill="#fff" opacity="0.23"/>
<rect x="396.3" y="427.7" width="12.4" height="2.0" fill="rgb(68, 88, 232)" opacity="0.36"/>
<rect x="396.3" y="429.6" width="12.4" height="1.0" fill="#fff" opacity="0.16"/>
<rect x="396.3" y="433.1" width="12.4" height="1.9" fill="rgb(68, 88, 232)" opacity="0.10"/>
<rect x="396.3" y="435.0" width="12.4" height="1.7" fill="#fff" opacity="0.11"/>
<rect x="396.3" y="436.7" width="12.4" height="1.6" fill="rgb(68, 88, 232)" opacity="0.11"/>
<rect x="396.3" y="438.3" width="12.4" height="1.8" fill="#fff" opacity="0.22"/>
<rect x="396.3" y="439.8" width="12.4" height="1.3" fill="rgb(68, 88, 232)" opacity="0.42"/>
<rect x="396.3" y="441.1" width="12.4" height="1.6" fill="#fff" opacity="0.20"/>
<rect x="396.3" y="444.1" width="12.4" height="2.1" fill="rgb(68, 88, 232)" opacity="0.29"/>
<rect x="396.3" y="446.1" width="12.4" height="1.2" fill="#fff" opacity="0.16"/>
<rect x="396.3" y="448.3" width="12.4" height="2.4" fill="rgb(68, 88, 232)" opacity="0.47"/>
<rect x="396.3" y="450.7" width="12.4" height="1.4" fill="#fff" opacity="0.14"/>
<rect x="396.3" y="454.2" width="12.4" height="1.4" fill="rgb(68, 88, 232)" opacity="0.07"/>
<rect x="396.3" y="455.6" width="12.4" height="1.2" fill="#fff" opacity="0.17"/>
<rect x="396.3" y="457.8" width="12.4" height="1.3" fill="rgb(68, 88, 232)" opacity="0.20"/>
<rect x="396.3" y="459.1" width="12.4" height="1.8" fill="#fff" opacity="0.17"/>
<rect x="396.3" y="462.3" width="12.4" height="1.7" fill="rgb(68, 88, 232)" opacity="0.43"/>
<rect x="396.3" y="464.1" width="12.4" height="1.6" fill="#fff" opacity="0.23"/>
<rect x="396.3" y="466.6" width="12.4" height="2.3" fill="rgb(68, 88, 232)" opacity="0.09"/>
<rect x="396.3" y="468.9" width="12.4" height="0.9" fill="#fff" opacity="0.15"/>
<rect x="396.3" y="471.7" width="12.4" height="1.6" fill="rgb(68, 88, 232)" opacity="0.42"/>
<rect x="396.3" y="473.3" width="12.4" height="1.3" fill="#fff" opacity="0.20"/>
<rect x="396.3" y="475.5" width="12.4" height="1.1" fill="rgb(68, 88, 232)" opacity="0.07"/>
<rect x="396.3" y="476.6" width="12.4" height="1.7" fill="#fff" opacity="0.14"/>
<rect x="396.3" y="479.6" width="12.4" height="2.2" fill="rgb(68, 88, 232)" opacity="0.24"/>
<rect x="396.3" y="481.7" width="12.4" height="1.6" fill="#fff" opacity="0.25"/>
<rect x="396.3" y="485.2" width="12.4" height="2.0" fill="rgb(68, 88, 232)" opacity="0.15"/>
<rect x="396.3" y="487.2" width="12.4" height="0.8" fill="#fff" opacity="0.10"/>
<rect x="396.3" y="488.9" width="12.4" height="2.0" fill="rgb(68, 88, 232)" opacity="0.13"/>
<rect x="396.3" y="490.9" width="12.4" height="0.9" fill="#fff" opacity="0.11"/>
<rect x="396.3" y="491.9" width="12.4" height="2.4" fill="rgb(68, 88, 232)" opacity="0.28"/>
<rect x="396.3" y="494.3" width="12.4" height="1.6" fill="#fff" opacity="0.23"/>
<rect x="396.3" y="495.4" width="12.4" height="2.1" fill="rgb(68, 88, 232)" opacity="0.32"/>
<rect x="396.3" y="497.5" width="12.4" height="1.0" fill="#fff" opacity="0.24"/>
<rect x="396.3" y="499.8" width="12.4" height="2.0" fill="rgb(68, 88, 232)" opacity="0.11"/>
<rect x="396.3" y="501.8" width="12.4" height="1.1" fill="#fff" opacity="0.20"/>
<rect x="396.3" y="505.3" width="12.4" height="2.4" fill="rgb(68, 88, 232)" opacity="0.12"/>
<rect x="396.3" y="507.8" width="12.4" height="1.1" fill="#fff" opacity="0.27"/>
<rect x="396.3" y="510.5" width="12.4" height="1.8" fill="rgb(68, 88, 232)" opacity="0.13"/>
<rect x="396.3" y="512.3" width="12.4" height="1.4" fill="#fff" opacity="0.14"/>
<rect x="396.3" y="514.9" width="12.4" height="1.6" fill="rgb(68, 88, 232)" opacity="0.11"/>
<rect x="396.3" y="516.5" width="12.4" height="1.2" fill="#fff" opacity="0.21"/>
<rect x="396.3" y="518.7" width="12.4" height="1.4" fill="rgb(68, 88, 232)" opacity="0.35"/>
<rect x="396.3" y="520.1" width="12.4" height="1.2" fill="#fff" opacity="0.24"/>
</g>
<g transform="matrix(1,0,0.01163,1,-4.058,0)">
<linearGradient id="g283833835" x1="0" y1="349" x2="0" y2="521" gradientUnits="userSpaceOnUse"><stop offset="0.000" stop-color="rgb(68, 88, 232)" stop-opacity="0.03"/><stop offset="0.209" stop-color="rgb(68, 88, 232)" stop-opacity="0.15"/><stop offset="0.279" stop-color="rgb(68, 88, 232)" stop-opacity="0.5"/><stop offset="0.994" stop-color="rgb(68, 88, 232)" stop-opacity="0.68"/></linearGradient>
<rect x="410.5" y="349.0" width="13.5" height="172.0" rx="1.5" fill="url(#g283833835)"/>
<rect x="410.8" y="352.4" width="12.9" height="1.2" fill="rgb(68, 88, 232)" opacity="0.01"/>
<rect x="410.8" y="353.6" width="12.9" height="1.4" fill="#fff" opacity="0.01"/>
<rect x="410.8" y="357.1" width="12.9" height="2.4" fill="rgb(68, 88, 232)" opacity="0.03"/>
<rect x="410.8" y="359.5" width="12.9" height="1.4" fill="#fff" opacity="0.02"/>
<rect x="410.8" y="362.8" width="12.9" height="1.2" fill="rgb(68, 88, 232)" opacity="0.02"/>
<rect x="410.8" y="364.0" width="12.9" height="1.4" fill="#fff" opacity="0.02"/>
<rect x="410.8" y="366.7" width="12.9" height="2.3" fill="rgb(68, 88, 232)" opacity="0.01"/>
<rect x="410.8" y="369.0" width="12.9" height="1.8" fill="#fff" opacity="0.03"/>
<rect x="410.8" y="372.5" width="12.9" height="1.6" fill="rgb(68, 88, 232)" opacity="0.07"/>
<rect x="410.8" y="374.1" width="12.9" height="1.2" fill="#fff" opacity="0.02"/>
<rect x="410.8" y="375.5" width="12.9" height="2.2" fill="rgb(68, 88, 232)" opacity="0.05"/>
<rect x="410.8" y="377.7" width="12.9" height="1.6" fill="#fff" opacity="0.03"/>
<rect x="410.8" y="381.8" width="12.9" height="2.0" fill="rgb(68, 88, 232)" opacity="0.10"/>
<rect x="410.8" y="383.9" width="12.9" height="1.4" fill="#fff" opacity="0.05"/>
<rect x="410.8" y="386.9" width="12.9" height="1.5" fill="rgb(68, 88, 232)" opacity="0.03"/>
<rect x="410.8" y="388.4" width="12.9" height="0.8" fill="#fff" opacity="0.04"/>
<rect x="410.8" y="389.8" width="12.9" height="2.0" fill="rgb(68, 88, 232)" opacity="0.11"/>
<rect x="410.8" y="391.8" width="12.9" height="1.3" fill="#fff" opacity="0.12"/>
<rect x="410.8" y="392.8" width="12.9" height="1.2" fill="rgb(68, 88, 232)" opacity="0.07"/>
<rect x="410.8" y="394.0" width="12.9" height="1.5" fill="#fff" opacity="0.06"/>
<rect x="410.8" y="396.5" width="12.9" height="1.0" fill="rgb(68, 88, 232)" opacity="0.06"/>
<rect x="410.8" y="397.5" width="12.9" height="0.9" fill="#fff" opacity="0.12"/>
<rect x="410.8" y="401.0" width="12.9" height="1.4" fill="rgb(68, 88, 232)" opacity="0.20"/>
<rect x="410.8" y="402.4" width="12.9" height="1.4" fill="#fff" opacity="0.11"/>
<rect x="410.8" y="406.9" width="12.9" height="2.0" fill="rgb(68, 88, 232)" opacity="0.21"/>
<rect x="410.8" y="408.9" width="12.9" height="0.9" fill="#fff" opacity="0.22"/>
<rect x="410.8" y="412.1" width="12.9" height="1.4" fill="rgb(68, 88, 232)" opacity="0.15"/>
<rect x="410.8" y="413.5" width="12.9" height="0.9" fill="#fff" opacity="0.18"/>
<rect x="410.8" y="417.3" width="12.9" height="2.4" fill="rgb(68, 88, 232)" opacity="0.25"/>
<rect x="410.8" y="419.7" width="12.9" height="1.2" fill="#fff" opacity="0.12"/>
<rect x="410.8" y="421.2" width="12.9" height="1.0" fill="rgb(68, 88, 232)" opacity="0.41"/>
<rect x="410.8" y="422.2" width="12.9" height="1.4" fill="#fff" opacity="0.14"/>
<rect x="410.8" y="427.7" width="12.9" height="2.0" fill="rgb(68, 88, 232)" opacity="0.30"/>
<rect x="410.8" y="429.7" width="12.9" height="1.7" fill="#fff" opacity="0.20"/>
<rect x="410.8" y="433.1" width="12.9" height="1.4" fill="rgb(68, 88, 232)" opacity="0.23"/>
<rect x="410.8" y="434.5" width="12.9" height="0.8" fill="#fff" opacity="0.17"/>
<rect x="410.8" y="436.7" width="12.9" height="1.6" fill="rgb(68, 88, 232)" opacity="0.12"/>
<rect x="410.8" y="438.4" width="12.9" height="0.9" fill="#fff" opacity="0.21"/>
<rect x="410.8" y="439.8" width="12.9" height="1.0" fill="rgb(68, 88, 232)" opacity="0.32"/>
<rect x="410.8" y="440.8" width="12.9" height="1.7" fill="#fff" opacity="0.11"/>
<rect x="410.8" y="444.1" width="12.9" height="1.3" fill="rgb(68, 88, 232)" opacity="0.37"/>
<rect x="410.8" y="445.4" width="12.9" height="1.3" fill="#fff" opacity="0.19"/>
<rect x="410.8" y="448.3" width="12.9" height="2.3" fill="rgb(68, 88, 232)" opacity="0.27"/>
<rect x="410.8" y="450.6" width="12.9" height="1.1" fill="#fff" opacity="0.14"/>
<rect x="410.8" y="454.2" width="12.9" height="1.1" fill="rgb(68, 88, 232)" opacity="0.11"/>
<rect x="410.8" y="455.3" width="12.9" height="1.6" fill="#fff" opacity="0.21"/>
<rect x="410.8" y="457.8" width="12.9" height="1.0" fill="rgb(68, 88, 232)" opacity="0.48"/>
<rect x="410.8" y="458.8" width="12.9" height="1.5" fill="#fff" opacity="0.17"/>
<rect x="410.8" y="462.3" width="12.9" height="2.2" fill="rgb(68, 88, 232)" opacity="0.38"/>
<rect x="410.8" y="464.5" width="12.9" height="1.0" fill="#fff" opacity="0.11"/>
<rect x="410.8" y="466.6" width="12.9" height="1.4" fill="rgb(68, 88, 232)" opacity="0.06"/>
<rect x="410.8" y="468.0" width="12.9" height="1.1" fill="#fff" opacity="0.23"/>
<rect x="410.8" y="471.7" width="12.9" height="2.1" fill="rgb(68, 88, 232)" opacity="0.44"/>
<rect x="410.8" y="473.9" width="12.9" height="1.5" fill="#fff" opacity="0.14"/>
<rect x="410.8" y="475.5" width="12.9" height="1.9" fill="rgb(68, 88, 232)" opacity="0.11"/>
<rect x="410.8" y="477.4" width="12.9" height="1.6" fill="#fff" opacity="0.19"/>
<rect x="410.8" y="479.6" width="12.9" height="1.4" fill="rgb(68, 88, 232)" opacity="0.46"/>
<rect x="410.8" y="481.0" width="12.9" height="1.8" fill="#fff" opacity="0.13"/>
<rect x="410.8" y="485.2" width="12.9" height="2.4" fill="rgb(68, 88, 232)" opacity="0.07"/>
<rect x="410.8" y="487.6" width="12.9" height="1.1" fill="#fff" opacity="0.14"/>
<rect x="410.8" y="488.9" width="12.9" height="2.2" fill="rgb(68, 88, 232)" opacity="0.17"/>
<rect x="410.8" y="491.1" width="12.9" height="1.5" fill="#fff" opacity="0.16"/>
<rect x="410.8" y="491.9" width="12.9" height="2.4" fill="rgb(68, 88, 232)" opacity="0.31"/>
<rect x="410.8" y="494.3" width="12.9" height="1.0" fill="#fff" opacity="0.27"/>
<rect x="410.8" y="495.4" width="12.9" height="2.0" fill="rgb(68, 88, 232)" opacity="0.33"/>
<rect x="410.8" y="497.4" width="12.9" height="1.5" fill="#fff" opacity="0.29"/>
<rect x="410.8" y="499.8" width="12.9" height="1.8" fill="rgb(68, 88, 232)" opacity="0.20"/>
<rect x="410.8" y="501.6" width="12.9" height="1.5" fill="#fff" opacity="0.26"/>
<rect x="410.8" y="505.3" width="12.9" height="1.7" fill="rgb(68, 88, 232)" opacity="0.16"/>
<rect x="410.8" y="507.0" width="12.9" height="1.4" fill="#fff" opacity="0.16"/>
<rect x="410.8" y="510.5" width="12.9" height="1.3" fill="rgb(68, 88, 232)" opacity="0.15"/>
<rect x="410.8" y="511.9" width="12.9" height="0.9" fill="#fff" opacity="0.28"/>
<rect x="410.8" y="514.9" width="12.9" height="1.2" fill="rgb(68, 88, 232)" opacity="0.10"/>
<rect x="410.8" y="516.1" width="12.9" height="0.9" fill="#fff" opacity="0.29"/>
<rect x="410.8" y="518.7" width="12.9" height="1.6" fill="rgb(68, 88, 232)" opacity="0.30"/>
<rect x="410.8" y="520.2" width="12.9" height="0.8" fill="#fff" opacity="0.11"/>
</g>
<g transform="matrix(1,0,0.01071,1,-3.782,0)">
<linearGradient id="g743700661" x1="0" y1="353" x2="0" y2="521" gradientUnits="userSpaceOnUse"><stop offset="0.000" stop-color="rgb(68, 88, 232)" stop-opacity="0.048"/><stop offset="0.208" stop-color="rgb(68, 88, 232)" stop-opacity="0.18"/><stop offset="0.280" stop-color="rgb(68, 88, 232)" stop-opacity="0.5"/><stop offset="0.994" stop-color="rgb(68, 88, 232)" stop-opacity="0.62"/></linearGradient>
<rect x="426.0" y="353.0" width="13.5" height="168.0" rx="1.5" fill="url(#g743700661)"/>
<rect x="426.3" y="357.1" width="12.9" height="2.0" fill="rgb(68, 88, 232)" opacity="0.02"/>
<rect x="426.3" y="359.1" width="12.9" height="0.9" fill="#fff" opacity="0.01"/>
<rect x="426.3" y="362.8" width="12.9" height="2.4" fill="rgb(68, 88, 232)" opacity="0.02"/>
<rect x="426.3" y="365.2" width="12.9" height="1.0" fill="#fff" opacity="0.04"/>
<rect x="426.3" y="366.7" width="12.9" height="1.9" fill="rgb(68, 88, 232)" opacity="0.02"/>
<rect x="426.3" y="368.6" width="12.9" height="1.7" fill="#fff" opacity="0.04"/>
<rect x="426.3" y="372.5" width="12.9" height="2.1" fill="rgb(68, 88, 232)" opacity="0.06"/>
<rect x="426.3" y="374.7" width="12.9" height="1.0" fill="#fff" opacity="0.03"/>
<rect x="426.3" y="375.5" width="12.9" height="1.1" fill="rgb(68, 88, 232)" opacity="0.12"/>
<rect x="426.3" y="376.5" width="12.9" height="1.7" fill="#fff" opacity="0.05"/>
<rect x="426.3" y="381.8" width="12.9" height="1.1" fill="rgb(68, 88, 232)" opacity="0.09"/>
<rect x="426.3" y="383.0" width="12.9" height="1.4" fill="#fff" opacity="0.05"/>
<rect x="426.3" y="386.9" width="12.9" height="1.2" fill="rgb(68, 88, 232)" opacity="0.05"/>
<rect x="426.3" y="388.1" width="12.9" height="1.4" fill="#fff" opacity="0.04"/>
<rect x="426.3" y="389.8" width="12.9" height="1.5" fill="rgb(68, 88, 232)" opacity="0.08"/>
<rect x="426.3" y="391.3" width="12.9" height="1.2" fill="#fff" opacity="0.10"/>
<rect x="426.3" y="392.8" width="12.9" height="1.1" fill="rgb(68, 88, 232)" opacity="0.09"/>
<rect x="426.3" y="393.9" width="12.9" height="1.7" fill="#fff" opacity="0.12"/>
<rect x="426.3" y="396.5" width="12.9" height="2.0" fill="rgb(68, 88, 232)" opacity="0.06"/>
<rect x="426.3" y="398.5" width="12.9" height="1.1" fill="#fff" opacity="0.15"/>
<rect x="426.3" y="401.0" width="12.9" height="2.3" fill="rgb(68, 88, 232)" opacity="0.11"/>
<rect x="426.3" y="403.3" width="12.9" height="1.3" fill="#fff" opacity="0.09"/>
<rect x="426.3" y="406.9" width="12.9" height="1.8" fill="rgb(68, 88, 232)" opacity="0.13"/>
<rect x="426.3" y="408.7" width="12.9" height="1.4" fill="#fff" opacity="0.18"/>
<rect x="426.3" y="412.1" width="12.9" height="2.3" fill="rgb(68, 88, 232)" opacity="0.22"/>
<rect x="426.3" y="414.4" width="12.9" height="1.1" fill="#fff" opacity="0.14"/>
<rect x="426.3" y="417.3" width="12.9" height="1.8" fill="rgb(68, 88, 232)" opacity="0.16"/>
<rect x="426.3" y="419.2" width="12.9" height="1.6" fill="#fff" opacity="0.09"/>
<rect x="426.3" y="421.2" width="12.9" height="1.6" fill="rgb(68, 88, 232)" opacity="0.22"/>
<rect x="426.3" y="422.7" width="12.9" height="1.5" fill="#fff" opacity="0.21"/>
<rect x="426.3" y="427.7" width="12.9" height="2.5" fill="rgb(68, 88, 232)" opacity="0.34"/>
<rect x="426.3" y="430.2" width="12.9" height="1.8" fill="#fff" opacity="0.16"/>
<rect x="426.3" y="433.1" width="12.9" height="1.9" fill="rgb(68, 88, 232)" opacity="0.11"/>
<rect x="426.3" y="435.0" width="12.9" height="1.6" fill="#fff" opacity="0.23"/>
<rect x="426.3" y="436.7" width="12.9" height="1.4" fill="rgb(68, 88, 232)" opacity="0.11"/>
<rect x="426.3" y="438.1" width="12.9" height="1.7" fill="#fff" opacity="0.20"/>
<rect x="426.3" y="439.8" width="12.9" height="1.8" fill="rgb(68, 88, 232)" opacity="0.43"/>
<rect x="426.3" y="441.6" width="12.9" height="1.4" fill="#fff" opacity="0.10"/>
<rect x="426.3" y="444.1" width="12.9" height="1.5" fill="rgb(68, 88, 232)" opacity="0.21"/>
<rect x="426.3" y="445.6" width="12.9" height="1.7" fill="#fff" opacity="0.23"/>
<rect x="426.3" y="448.3" width="12.9" height="2.2" fill="rgb(68, 88, 232)" opacity="0.33"/>
<rect x="426.3" y="450.5" width="12.9" height="1.4" fill="#fff" opacity="0.14"/>
<rect x="426.3" y="454.2" width="12.9" height="1.5" fill="rgb(68, 88, 232)" opacity="0.07"/>
<rect x="426.3" y="455.7" width="12.9" height="1.3" fill="#fff" opacity="0.11"/>
<rect x="426.3" y="457.8" width="12.9" height="2.6" fill="rgb(68, 88, 232)" opacity="0.39"/>
<rect x="426.3" y="460.4" width="12.9" height="1.7" fill="#fff" opacity="0.10"/>
<rect x="426.3" y="462.3" width="12.9" height="2.0" fill="rgb(68, 88, 232)" opacity="0.44"/>
<rect x="426.3" y="464.3" width="12.9" height="1.4" fill="#fff" opacity="0.09"/>
<rect x="426.3" y="466.6" width="12.9" height="1.9" fill="rgb(68, 88, 232)" opacity="0.10"/>
<rect x="426.3" y="468.5" width="12.9" height="1.7" fill="#fff" opacity="0.16"/>
<rect x="426.3" y="471.7" width="12.9" height="1.9" fill="rgb(68, 88, 232)" opacity="0.27"/>
<rect x="426.3" y="473.6" width="12.9" height="1.3" fill="#fff" opacity="0.20"/>
<rect x="426.3" y="475.5" width="12.9" height="1.4" fill="rgb(68, 88, 232)" opacity="0.08"/>
<rect x="426.3" y="477.0" width="12.9" height="1.1" fill="#fff" opacity="0.20"/>
<rect x="426.3" y="479.6" width="12.9" height="2.1" fill="rgb(68, 88, 232)" opacity="0.38"/>
<rect x="426.3" y="481.7" width="12.9" height="1.1" fill="#fff" opacity="0.22"/>
<rect x="426.3" y="485.2" width="12.9" height="2.3" fill="rgb(68, 88, 232)" opacity="0.13"/>
<rect x="426.3" y="487.5" width="12.9" height="1.5" fill="#fff" opacity="0.26"/>
<rect x="426.3" y="488.9" width="12.9" height="2.2" fill="rgb(68, 88, 232)" opacity="0.12"/>
<rect x="426.3" y="491.0" width="12.9" height="1.1" fill="#fff" opacity="0.13"/>
<rect x="426.3" y="491.9" width="12.9" height="2.5" fill="rgb(68, 88, 232)" opacity="0.26"/>
<rect x="426.3" y="494.4" width="12.9" height="1.8" fill="#fff" opacity="0.27"/>
<rect x="426.3" y="495.4" width="12.9" height="1.3" fill="rgb(68, 88, 232)" opacity="0.30"/>
<rect x="426.3" y="496.6" width="12.9" height="1.0" fill="#fff" opacity="0.12"/>
<rect x="426.3" y="499.8" width="12.9" height="1.2" fill="rgb(68, 88, 232)" opacity="0.12"/>
<rect x="426.3" y="501.1" width="12.9" height="1.1" fill="#fff" opacity="0.14"/>
<rect x="426.3" y="505.3" width="12.9" height="1.2" fill="rgb(68, 88, 232)" opacity="0.17"/>
<rect x="426.3" y="506.5" width="12.9" height="1.1" fill="#fff" opacity="0.25"/>
<rect x="426.3" y="510.5" width="12.9" height="1.7" fill="rgb(68, 88, 232)" opacity="0.07"/>
<rect x="426.3" y="512.3" width="12.9" height="1.7" fill="#fff" opacity="0.17"/>
<rect x="426.3" y="514.9" width="12.9" height="1.4" fill="rgb(68, 88, 232)" opacity="0.22"/>
<rect x="426.3" y="516.2" width="12.9" height="1.1" fill="#fff" opacity="0.10"/>
<rect x="426.3" y="518.7" width="12.9" height="1.4" fill="rgb(68, 88, 232)" opacity="0.49"/>
<rect x="426.3" y="520.1" width="12.9" height="0.8" fill="#fff" opacity="0.14"/>
</g>
<g transform="matrix(1,0,0.01404,1,-4.817,0)">
<linearGradient id="g915785081" x1="0" y1="343" x2="0" y2="521" gradientUnits="userSpaceOnUse"><stop offset="0.000" stop-color="rgb(68, 88, 232)" stop-opacity="0.09"/><stop offset="0.208" stop-color="rgb(68, 88, 232)" stop-opacity="0.3"/><stop offset="0.292" stop-color="rgb(68, 88, 232)" stop-opacity="0.68"/><stop offset="0.994" stop-color="rgb(68, 88, 232)" stop-opacity="0.78"/></linearGradient>
<rect x="441.0" y="343.0" width="14.0" height="178.0" rx="1.5" fill="url(#g915785081)"/>
<rect x="441.3" y="347.4" width="13.4" height="1.7" fill="rgb(68, 88, 232)" opacity="0.05"/>
<rect x="441.3" y="349.1" width="13.4" height="1.5" fill="#fff" opacity="0.03"/>
<rect x="441.3" y="352.4" width="13.4" height="1.4" fill="rgb(68, 88, 232)" opacity="0.04"/>
<rect x="441.3" y="353.7" width="13.4" height="1.7" fill="#fff" opacity="0.05"/>
<rect x="441.3" y="357.1" width="13.4" height="2.1" fill="rgb(68, 88, 232)" opacity="0.11"/>
<rect x="441.3" y="359.2" width="13.4" height="1.5" fill="#fff" opacity="0.06"/>
<rect x="441.3" y="362.8" width="13.4" height="1.7" fill="rgb(68, 88, 232)" opacity="0.03"/>
<rect x="441.3" y="364.5" width="13.4" height="1.4" fill="#fff" opacity="0.04"/>
<rect x="441.3" y="366.7" width="13.4" height="1.7" fill="rgb(68, 88, 232)" opacity="0.05"/>
<rect x="441.3" y="368.4" width="13.4" height="1.5" fill="#fff" opacity="0.08"/>
<rect x="441.3" y="372.5" width="13.4" height="1.4" fill="rgb(68, 88, 232)" opacity="0.12"/>
<rect x="441.3" y="373.9" width="13.4" height="1.3" fill="#fff" opacity="0.09"/>
<rect x="441.3" y="375.5" width="13.4" height="1.7" fill="rgb(68, 88, 232)" opacity="0.21"/>
<rect x="441.3" y="377.1" width="13.4" height="1.7" fill="#fff" opacity="0.06"/>
<rect x="441.3" y="381.8" width="13.4" height="2.0" fill="rgb(68, 88, 232)" opacity="0.21"/>
<rect x="441.3" y="383.9" width="13.4" height="1.2" fill="#fff" opacity="0.10"/>
<rect x="441.3" y="386.9" width="13.4" height="2.6" fill="rgb(68, 88, 232)" opacity="0.06"/>
<rect x="441.3" y="389.5" width="13.4" height="1.3" fill="#fff" opacity="0.09"/>
<rect x="441.3" y="389.8" width="13.4" height="2.3" fill="rgb(68, 88, 232)" opacity="0.32"/>
<rect x="441.3" y="392.0" width="13.4" height="1.3" fill="#fff" opacity="0.10"/>
<rect x="441.3" y="392.8" width="13.4" height="1.9" fill="rgb(68, 88, 232)" opacity="0.15"/>
<rect x="441.3" y="394.7" width="13.4" height="1.5" fill="#fff" opacity="0.19"/>
<rect x="441.3" y="396.5" width="13.4" height="2.0" fill="rgb(68, 88, 232)" opacity="0.13"/>
<rect x="441.3" y="398.5" width="13.4" height="1.3" fill="#fff" opacity="0.19"/>
<rect x="441.3" y="401.0" width="13.4" height="2.5" fill="rgb(68, 88, 232)" opacity="0.19"/>
<rect x="441.3" y="403.5" width="13.4" height="1.5" fill="#fff" opacity="0.18"/>
<rect x="441.3" y="406.9" width="13.4" height="2.2" fill="rgb(68, 88, 232)" opacity="0.19"/>
<rect x="441.3" y="409.1" width="13.4" height="1.8" fill="#fff" opacity="0.18"/>
<rect x="441.3" y="412.1" width="13.4" height="1.1" fill="rgb(68, 88, 232)" opacity="0.22"/>
<rect x="441.3" y="413.2" width="13.4" height="1.2" fill="#fff" opacity="0.11"/>
<rect x="441.3" y="417.3" width="13.4" height="1.7" fill="rgb(68, 88, 232)" opacity="0.25"/>
<rect x="441.3" y="419.0" width="13.4" height="1.5" fill="#fff" opacity="0.18"/>
<rect x="441.3" y="421.2" width="13.4" height="1.4" fill="rgb(68, 88, 232)" opacity="0.36"/>
<rect x="441.3" y="422.6" width="13.4" height="1.5" fill="#fff" opacity="0.30"/>
<rect x="441.3" y="427.7" width="13.4" height="1.8" fill="rgb(68, 88, 232)" opacity="0.31"/>
<rect x="441.3" y="429.5" width="13.4" height="1.6" fill="#fff" opacity="0.19"/>
<rect x="441.3" y="433.1" width="13.4" height="1.3" fill="rgb(68, 88, 232)" opacity="0.15"/>
<rect x="441.3" y="434.4" width="13.4" height="1.6" fill="#fff" opacity="0.28"/>
<rect x="441.3" y="436.7" width="13.4" height="2.0" fill="rgb(68, 88, 232)" opacity="0.20"/>
<rect x="441.3" y="438.7" width="13.4" height="1.4" fill="#fff" opacity="0.16"/>
<rect x="441.3" y="439.8" width="13.4" height="2.5" fill="rgb(68, 88, 232)" opacity="0.34"/>
<rect x="441.3" y="442.3" width="13.4" height="1.4" fill="#fff" opacity="0.28"/>
<rect x="441.3" y="444.1" width="13.4" height="2.3" fill="rgb(68, 88, 232)" opacity="0.41"/>
<rect x="441.3" y="446.4" width="13.4" height="1.1" fill="#fff" opacity="0.23"/>
<rect x="441.3" y="448.3" width="13.4" height="1.2" fill="rgb(68, 88, 232)" opacity="0.61"/>
<rect x="441.3" y="449.5" width="13.4" height="1.2" fill="#fff" opacity="0.29"/>
<rect x="441.3" y="454.2" width="13.4" height="1.4" fill="rgb(68, 88, 232)" opacity="0.09"/>
<rect x="441.3" y="455.7" width="13.4" height="1.1" fill="#fff" opacity="0.20"/>
<rect x="441.3" y="457.8" width="13.4" height="1.3" fill="rgb(68, 88, 232)" opacity="0.26"/>
<rect x="441.3" y="459.1" width="13.4" height="1.5" fill="#fff" opacity="0.17"/>
<rect x="441.3" y="462.3" width="13.4" height="1.4" fill="rgb(68, 88, 232)" opacity="0.40"/>
<rect x="441.3" y="463.7" width="13.4" height="1.3" fill="#fff" opacity="0.20"/>
<rect x="441.3" y="466.6" width="13.4" height="2.0" fill="rgb(68, 88, 232)" opacity="0.15"/>
<rect x="441.3" y="468.6" width="13.4" height="1.2" fill="#fff" opacity="0.32"/>
<rect x="441.3" y="471.7" width="13.4" height="2.4" fill="rgb(68, 88, 232)" opacity="0.25"/>
<rect x="441.3" y="474.1" width="13.4" height="1.6" fill="#fff" opacity="0.31"/>
<rect x="441.3" y="475.5" width="13.4" height="2.3" fill="rgb(68, 88, 232)" opacity="0.09"/>
<rect x="441.3" y="477.8" width="13.4" height="1.6" fill="#fff" opacity="0.25"/>
<rect x="441.3" y="479.6" width="13.4" height="1.0" fill="rgb(68, 88, 232)" opacity="0.28"/>
<rect x="441.3" y="480.6" width="13.4" height="1.8" fill="#fff" opacity="0.26"/>
<rect x="441.3" y="485.2" width="13.4" height="1.4" fill="rgb(68, 88, 232)" opacity="0.10"/>
<rect x="441.3" y="486.6" width="13.4" height="0.9" fill="#fff" opacity="0.17"/>
<rect x="441.3" y="488.9" width="13.4" height="2.2" fill="rgb(68, 88, 232)" opacity="0.12"/>
<rect x="441.3" y="491.1" width="13.4" height="1.0" fill="#fff" opacity="0.32"/>
<rect x="441.3" y="491.9" width="13.4" height="2.3" fill="rgb(68, 88, 232)" opacity="0.30"/>
<rect x="441.3" y="494.2" width="13.4" height="1.7" fill="#fff" opacity="0.25"/>
<rect x="441.3" y="495.4" width="13.4" height="2.3" fill="rgb(68, 88, 232)" opacity="0.38"/>
<rect x="441.3" y="497.6" width="13.4" height="1.7" fill="#fff" opacity="0.29"/>
<rect x="441.3" y="499.8" width="13.4" height="2.3" fill="rgb(68, 88, 232)" opacity="0.13"/>
<rect x="441.3" y="502.2" width="13.4" height="1.5" fill="#fff" opacity="0.24"/>
<rect x="441.3" y="505.3" width="13.4" height="2.2" fill="rgb(68, 88, 232)" opacity="0.15"/>
<rect x="441.3" y="507.5" width="13.4" height="1.7" fill="#fff" opacity="0.24"/>
<rect x="441.3" y="510.5" width="13.4" height="1.4" fill="rgb(68, 88, 232)" opacity="0.12"/>
<rect x="441.3" y="511.9" width="13.4" height="0.9" fill="#fff" opacity="0.23"/>
<rect x="441.3" y="514.9" width="13.4" height="1.1" fill="rgb(68, 88, 232)" opacity="0.19"/>
<rect x="441.3" y="516.0" width="13.4" height="0.9" fill="#fff" opacity="0.23"/>
<rect x="441.3" y="518.7" width="13.4" height="1.8" fill="rgb(68, 88, 232)" opacity="0.53"/>
<rect x="441.3" y="520.5" width="13.4" height="1.7" fill="#fff" opacity="0.12"/>
</g>
<g transform="matrix(1,0,0.01453,1,-5.073,0)">
<linearGradient id="g902767245" x1="0" y1="349" x2="0" y2="521" gradientUnits="userSpaceOnUse"><stop offset="0.000" stop-color="rgb(68, 88, 232)" stop-opacity="0.03"/><stop offset="0.169" stop-color="rgb(68, 88, 232)" stop-opacity="0.09"/><stop offset="0.227" stop-color="rgb(68, 88, 232)" stop-opacity="0.5"/><stop offset="0.413" stop-color="rgb(68, 88, 232)" stop-opacity="0.7"/><stop offset="0.529" stop-color="rgb(68, 88, 232)" stop-opacity="0.75"/><stop offset="0.645" stop-color="rgb(68, 88, 232)" stop-opacity="0.7"/><stop offset="0.994" stop-color="rgb(68, 88, 232)" stop-opacity="0.75"/></linearGradient>
<rect x="457.0" y="349.0" width="14.5" height="172.0" rx="1.5" fill="url(#g902767245)"/>
<rect x="457.3" y="352.4" width="13.9" height="1.5" fill="rgb(68, 88, 232)" opacity="0.01"/>
<rect x="457.3" y="353.9" width="13.9" height="1.3" fill="#fff" opacity="0.01"/>
<rect x="457.3" y="357.1" width="13.9" height="1.7" fill="rgb(68, 88, 232)" opacity="0.02"/>
<rect x="457.3" y="358.8" width="13.9" height="1.8" fill="#fff" opacity="0.02"/>
<rect x="457.3" y="362.8" width="13.9" height="1.3" fill="rgb(68, 88, 232)" opacity="0.01"/>
<rect x="457.3" y="364.1" width="13.9" height="1.4" fill="#fff" opacity="0.01"/>
<rect x="457.3" y="366.7" width="13.9" height="1.1" fill="rgb(68, 88, 232)" opacity="0.01"/>
<rect x="457.3" y="367.8" width="13.9" height="1.8" fill="#fff" opacity="0.03"/>
<rect x="457.3" y="372.5" width="13.9" height="1.2" fill="rgb(68, 88, 232)" opacity="0.04"/>
<rect x="457.3" y="373.7" width="13.9" height="1.6" fill="#fff" opacity="0.02"/>
<rect x="457.3" y="375.5" width="13.9" height="1.3" fill="rgb(68, 88, 232)" opacity="0.05"/>
<rect x="457.3" y="376.8" width="13.9" height="0.9" fill="#fff" opacity="0.02"/>
<rect x="457.3" y="381.8" width="13.9" height="2.1" fill="rgb(68, 88, 232)" opacity="0.10"/>
<rect x="457.3" y="383.9" width="13.9" height="1.6" fill="#fff" opacity="0.08"/>
<rect x="457.3" y="386.9" width="13.9" height="2.5" fill="rgb(68, 88, 232)" opacity="0.08"/>
<rect x="457.3" y="389.4" width="13.9" height="1.1" fill="#fff" opacity="0.10"/>
<rect x="457.3" y="389.8" width="13.9" height="1.1" fill="rgb(68, 88, 232)" opacity="0.17"/>
<rect x="457.3" y="390.9" width="13.9" height="1.2" fill="#fff" opacity="0.15"/>
<rect x="457.3" y="392.8" width="13.9" height="1.5" fill="rgb(68, 88, 232)" opacity="0.18"/>
<rect x="457.3" y="394.3" width="13.9" height="1.7" fill="#fff" opacity="0.13"/>
<rect x="457.3" y="396.5" width="13.9" height="1.3" fill="rgb(68, 88, 232)" opacity="0.08"/>
<rect x="457.3" y="397.8" width="13.9" height="0.9" fill="#fff" opacity="0.11"/>
<rect x="457.3" y="401.0" width="13.9" height="2.1" fill="rgb(68, 88, 232)" opacity="0.14"/>
<rect x="457.3" y="403.1" width="13.9" height="1.8" fill="#fff" opacity="0.10"/>
<rect x="457.3" y="406.9" width="13.9" height="2.6" fill="rgb(68, 88, 232)" opacity="0.23"/>
<rect x="457.3" y="409.5" width="13.9" height="1.4" fill="#fff" opacity="0.17"/>
<rect x="457.3" y="412.1" width="13.9" height="1.9" fill="rgb(68, 88, 232)" opacity="0.24"/>
<rect x="457.3" y="414.0" width="13.9" height="0.9" fill="#fff" opacity="0.11"/>
<rect x="457.3" y="417.3" width="13.9" height="2.3" fill="rgb(68, 88, 232)" opacity="0.26"/>
<rect x="457.3" y="419.7" width="13.9" height="1.6" fill="#fff" opacity="0.11"/>
<rect x="457.3" y="421.2" width="13.9" height="1.8" fill="rgb(68, 88, 232)" opacity="0.49"/>
<rect x="457.3" y="423.0" width="13.9" height="1.2" fill="#fff" opacity="0.14"/>
<rect x="457.3" y="427.7" width="13.9" height="2.1" fill="rgb(68, 88, 232)" opacity="0.49"/>
<rect x="457.3" y="429.7" width="13.9" height="1.7" fill="#fff" opacity="0.13"/>
<rect x="457.3" y="433.1" width="13.9" height="1.1" fill="rgb(68, 88, 232)" opacity="0.25"/>
<rect x="457.3" y="434.1" width="13.9" height="1.4" fill="#fff" opacity="0.15"/>
<rect x="457.3" y="436.7" width="13.9" height="2.1" fill="rgb(68, 88, 232)" opacity="0.29"/>
<rect x="457.3" y="438.8" width="13.9" height="1.2" fill="#fff" opacity="0.13"/>
<rect x="457.3" y="439.8" width="13.9" height="2.5" fill="rgb(68, 88, 232)" opacity="0.23"/>
<rect x="457.3" y="442.3" width="13.9" height="1.7" fill="#fff" opacity="0.14"/>
<rect x="457.3" y="444.1" width="13.9" height="1.5" fill="rgb(68, 88, 232)" opacity="0.52"/>
<rect x="457.3" y="445.6" width="13.9" height="1.7" fill="#fff" opacity="0.15"/>
<rect x="457.3" y="448.3" width="13.9" height="1.1" fill="rgb(68, 88, 232)" opacity="0.27"/>
<rect x="457.3" y="449.3" width="13.9" height="1.4" fill="#fff" opacity="0.24"/>
<rect x="457.3" y="454.2" width="13.9" height="2.5" fill="rgb(68, 88, 232)" opacity="0.10"/>
<rect x="457.3" y="456.7" width="13.9" height="1.3" fill="#fff" opacity="0.28"/>
<rect x="457.3" y="457.8" width="13.9" height="2.2" fill="rgb(68, 88, 232)" opacity="0.41"/>
<rect x="457.3" y="460.0" width="13.9" height="1.5" fill="#fff" opacity="0.19"/>
<rect x="457.3" y="462.3" width="13.9" height="1.1" fill="rgb(68, 88, 232)" opacity="0.54"/>
<rect x="457.3" y="463.5" width="13.9" height="1.4" fill="#fff" opacity="0.31"/>
<rect x="457.3" y="466.6" width="13.9" height="2.1" fill="rgb(68, 88, 232)" opacity="0.09"/>
<rect x="457.3" y="468.7" width="13.9" height="1.6" fill="#fff" opacity="0.22"/>
<rect x="457.3" y="471.7" width="13.9" height="1.1" fill="rgb(68, 88, 232)" opacity="0.38"/>
<rect x="457.3" y="472.9" width="13.9" height="1.7" fill="#fff" opacity="0.24"/>
<rect x="457.3" y="475.5" width="13.9" height="1.7" fill="rgb(68, 88, 232)" opacity="0.07"/>
<rect x="457.3" y="477.2" width="13.9" height="1.5" fill="#fff" opacity="0.32"/>
<rect x="457.3" y="479.6" width="13.9" height="2.4" fill="rgb(68, 88, 232)" opacity="0.35"/>
<rect x="457.3" y="481.9" width="13.9" height="0.9" fill="#fff" opacity="0.21"/>
<rect x="457.3" y="485.2" width="13.9" height="1.4" fill="rgb(68, 88, 232)" opacity="0.15"/>
<rect x="457.3" y="486.6" width="13.9" height="1.3" fill="#fff" opacity="0.27"/>
<rect x="457.3" y="488.9" width="13.9" height="2.5" fill="rgb(68, 88, 232)" opacity="0.12"/>
<rect x="457.3" y="491.4" width="13.9" height="1.5" fill="#fff" opacity="0.26"/>
<rect x="457.3" y="491.9" width="13.9" height="1.2" fill="rgb(68, 88, 232)" opacity="0.51"/>
<rect x="457.3" y="493.1" width="13.9" height="1.1" fill="#fff" opacity="0.23"/>
<rect x="457.3" y="495.4" width="13.9" height="1.8" fill="rgb(68, 88, 232)" opacity="0.37"/>
<rect x="457.3" y="497.2" width="13.9" height="1.7" fill="#fff" opacity="0.31"/>
<rect x="457.3" y="499.8" width="13.9" height="1.1" fill="rgb(68, 88, 232)" opacity="0.10"/>
<rect x="457.3" y="500.9" width="13.9" height="0.9" fill="#fff" opacity="0.30"/>
<rect x="457.3" y="505.3" width="13.9" height="2.1" fill="rgb(68, 88, 232)" opacity="0.17"/>
<rect x="457.3" y="507.4" width="13.9" height="1.2" fill="#fff" opacity="0.18"/>
<rect x="457.3" y="510.5" width="13.9" height="2.0" fill="rgb(68, 88, 232)" opacity="0.21"/>
<rect x="457.3" y="512.5" width="13.9" height="1.6" fill="#fff" opacity="0.25"/>
<rect x="457.3" y="514.9" width="13.9" height="1.5" fill="rgb(68, 88, 232)" opacity="0.26"/>
<rect x="457.3" y="516.4" width="13.9" height="1.5" fill="#fff" opacity="0.22"/>
<rect x="457.3" y="518.7" width="13.9" height="1.3" fill="rgb(68, 88, 232)" opacity="0.70"/>
<rect x="457.3" y="519.9" width="13.9" height="0.9" fill="#fff" opacity="0.33"/>
<rect x="457.0" y="393.0" width="14.5" height="7.0" rx="1.5" fill="rgb(68, 88, 232)" opacity="0.8"/>
<rect x="457.0" y="410.6" width="14.5" height="5.5" rx="1.5" fill="rgb(68, 88, 232)" opacity="0.9"/>
</g>
<g transform="matrix(1,0,0.02747,1,-9.231,0)">
<linearGradient id="g176121260" x1="0" y1="336" x2="0" y2="518" gradientUnits="userSpaceOnUse"><stop offset="0.000" stop-color="rgb(68, 88, 232)" stop-opacity="0.8"/><stop offset="0.071" stop-color="rgb(68, 88, 232)" stop-opacity="0.8"/><stop offset="0.088" stop-color="rgb(68, 88, 232)" stop-opacity="0.072"/><stop offset="0.297" stop-color="rgb(68, 88, 232)" stop-opacity="0.12"/><stop offset="0.352" stop-color="rgb(68, 88, 232)" stop-opacity="0.45"/><stop offset="0.791" stop-color="rgb(68, 88, 232)" stop-opacity="0.5"/><stop offset="0.835" stop-color="rgb(68, 88, 232)" stop-opacity="0.6"/><stop offset="0.901" stop-color="rgb(68, 88, 232)" stop-opacity="0.6"/><stop offset="0.929" stop-color="rgb(68, 88, 232)" stop-opacity="0.45"/><stop offset="1.000" stop-color="rgb(68, 88, 232)" stop-opacity="0.4"/></linearGradient>
<rect x="471.5" y="336.0" width="14.5" height="182.0" rx="1.5" fill="url(#g176121260)"/>
<rect x="471.8" y="338.0" width="13.9" height="2.0" fill="rgb(68, 88, 232)" opacity="0.28"/>
<rect x="471.8" y="340.0" width="13.9" height="1.2" fill="#fff" opacity="0.31"/>
<rect x="471.8" y="342.9" width="13.9" height="2.5" fill="rgb(68, 88, 232)" opacity="0.64"/>
<rect x="471.8" y="345.4" width="13.9" height="1.4" fill="#fff" opacity="0.19"/>
<rect x="471.8" y="347.4" width="13.9" height="1.1" fill="rgb(68, 88, 232)" opacity="0.47"/>
<rect x="471.8" y="348.5" width="13.9" height="1.5" fill="#fff" opacity="0.32"/>
<rect x="471.8" y="352.4" width="13.9" height="1.5" fill="rgb(68, 88, 232)" opacity="0.02"/>
<rect x="471.8" y="353.9" width="13.9" height="1.8" fill="#fff" opacity="0.03"/>
<rect x="471.8" y="357.1" width="13.9" height="2.0" fill="rgb(68, 88, 232)" opacity="0.03"/>
<rect x="471.8" y="359.0" width="13.9" height="1.2" fill="#fff" opacity="0.03"/>
<rect x="471.8" y="362.8" width="13.9" height="1.6" fill="rgb(68, 88, 232)" opacity="0.02"/>
<rect x="471.8" y="364.4" width="13.9" height="1.4" fill="#fff" opacity="0.04"/>
<rect x="471.8" y="366.7" width="13.9" height="2.3" fill="rgb(68, 88, 232)" opacity="0.01"/>
<rect x="471.8" y="369.0" width="13.9" height="0.8" fill="#fff" opacity="0.02"/>
<rect x="471.8" y="372.5" width="13.9" height="1.7" fill="rgb(68, 88, 232)" opacity="0.05"/>
<rect x="471.8" y="374.2" width="13.9" height="1.6" fill="#fff" opacity="0.04"/>
<rect x="471.8" y="375.5" width="13.9" height="1.1" fill="rgb(68, 88, 232)" opacity="0.09"/>
<rect x="471.8" y="376.5" width="13.9" height="1.6" fill="#fff" opacity="0.04"/>
<rect x="471.8" y="381.8" width="13.9" height="1.9" fill="rgb(68, 88, 232)" opacity="0.04"/>
<rect x="471.8" y="383.8" width="13.9" height="1.7" fill="#fff" opacity="0.04"/>
<rect x="471.8" y="386.9" width="13.9" height="2.1" fill="rgb(68, 88, 232)" opacity="0.03"/>
<rect x="471.8" y="389.0" width="13.9" height="1.1" fill="#fff" opacity="0.02"/>
<rect x="471.8" y="389.8" width="13.9" height="1.9" fill="rgb(68, 88, 232)" opacity="0.06"/>
<rect x="471.8" y="391.7" width="13.9" height="1.0" fill="#fff" opacity="0.04"/>
<rect x="471.8" y="392.8" width="13.9" height="2.5" fill="rgb(68, 88, 232)" opacity="0.04"/>
<rect x="471.8" y="395.3" width="13.9" height="1.4" fill="#fff" opacity="0.07"/>
<rect x="471.8" y="396.5" width="13.9" height="1.7" fill="rgb(68, 88, 232)" opacity="0.04"/>
<rect x="471.8" y="398.2" width="13.9" height="1.1" fill="#fff" opacity="0.13"/>
<rect x="471.8" y="401.0" width="13.9" height="2.3" fill="rgb(68, 88, 232)" opacity="0.16"/>
<rect x="471.8" y="403.3" width="13.9" height="0.9" fill="#fff" opacity="0.18"/>
<rect x="471.8" y="406.9" width="13.9" height="2.2" fill="rgb(68, 88, 232)" opacity="0.14"/>
<rect x="471.8" y="409.2" width="13.9" height="1.4" fill="#fff" opacity="0.19"/>
<rect x="471.8" y="412.1" width="13.9" height="2.4" fill="rgb(68, 88, 232)" opacity="0.19"/>
<rect x="471.8" y="414.5" width="13.9" height="1.3" fill="#fff" opacity="0.15"/>
<rect x="471.8" y="417.3" width="13.9" height="1.3" fill="rgb(68, 88, 232)" opacity="0.13"/>
<rect x="471.8" y="418.6" width="13.9" height="1.0" fill="#fff" opacity="0.17"/>
<rect x="471.8" y="421.2" width="13.9" height="1.6" fill="rgb(68, 88, 232)" opacity="0.33"/>
<rect x="471.8" y="422.8" width="13.9" height="1.2" fill="#fff" opacity="0.14"/>
<rect x="471.8" y="427.7" width="13.9" height="1.2" fill="rgb(68, 88, 232)" opacity="0.16"/>
<rect x="471.8" y="428.9" width="13.9" height="1.8" fill="#fff" opacity="0.12"/>
<rect x="471.8" y="433.1" width="13.9" height="1.2" fill="rgb(68, 88, 232)" opacity="0.16"/>
<rect x="471.8" y="434.2" width="13.9" height="1.6" fill="#fff" opacity="0.09"/>
<rect x="471.8" y="436.7" width="13.9" height="2.0" fill="rgb(68, 88, 232)" opacity="0.12"/>
<rect x="471.8" y="438.7" width="13.9" height="1.3" fill="#fff" opacity="0.07"/>
<rect x="471.8" y="439.8" width="13.9" height="1.1" fill="rgb(68, 88, 232)" opacity="0.37"/>
<rect x="471.8" y="440.8" width="13.9" height="1.7" fill="#fff" opacity="0.14"/>
<rect x="471.8" y="444.1" width="13.9" height="1.9" fill="rgb(68, 88, 232)" opacity="0.22"/>
<rect x="471.8" y="446.0" width="13.9" height="1.6" fill="#fff" opacity="0.13"/>
<rect x="471.8" y="448.3" width="13.9" height="2.5" fill="rgb(68, 88, 232)" opacity="0.39"/>
<rect x="471.8" y="450.8" width="13.9" height="1.6" fill="#fff" opacity="0.21"/>
<rect x="471.8" y="454.2" width="13.9" height="1.4" fill="rgb(68, 88, 232)" opacity="0.04"/>
<rect x="471.8" y="455.6" width="13.9" height="1.0" fill="#fff" opacity="0.10"/>
<rect x="471.8" y="457.8" width="13.9" height="1.1" fill="rgb(68, 88, 232)" opacity="0.18"/>
<rect x="471.8" y="458.9" width="13.9" height="1.4" fill="#fff" opacity="0.20"/>
<rect x="471.8" y="462.3" width="13.9" height="1.7" fill="rgb(68, 88, 232)" opacity="0.45"/>
<rect x="471.8" y="464.1" width="13.9" height="1.7" fill="#fff" opacity="0.08"/>
<rect x="471.8" y="466.6" width="13.9" height="2.0" fill="rgb(68, 88, 232)" opacity="0.08"/>
<rect x="471.8" y="468.6" width="13.9" height="0.9" fill="#fff" opacity="0.22"/>
<rect x="471.8" y="471.7" width="13.9" height="1.4" fill="rgb(68, 88, 232)" opacity="0.29"/>
<rect x="471.8" y="473.2" width="13.9" height="1.4" fill="#fff" opacity="0.22"/>
<rect x="471.8" y="475.5" width="13.9" height="2.1" fill="rgb(68, 88, 232)" opacity="0.08"/>
<rect x="471.8" y="477.6" width="13.9" height="1.2" fill="#fff" opacity="0.10"/>
<rect x="471.8" y="479.6" width="13.9" height="2.5" fill="rgb(68, 88, 232)" opacity="0.47"/>
<rect x="471.8" y="482.1" width="13.9" height="1.0" fill="#fff" opacity="0.08"/>
<rect x="471.8" y="485.2" width="13.9" height="1.4" fill="rgb(68, 88, 232)" opacity="0.10"/>
<rect x="471.8" y="486.6" width="13.9" height="1.7" fill="#fff" opacity="0.24"/>
<rect x="471.8" y="488.9" width="13.9" height="2.3" fill="rgb(68, 88, 232)" opacity="0.07"/>
<rect x="471.8" y="491.2" width="13.9" height="1.6" fill="#fff" opacity="0.22"/>
<rect x="471.8" y="491.9" width="13.9" height="2.0" fill="rgb(68, 88, 232)" opacity="0.49"/>
<rect x="471.8" y="493.9" width="13.9" height="0.9" fill="#fff" opacity="0.12"/>
<rect x="471.8" y="495.4" width="13.9" height="2.2" fill="rgb(68, 88, 232)" opacity="0.36"/>
<rect x="471.8" y="497.6" width="13.9" height="1.5" fill="#fff" opacity="0.14"/>
<rect x="471.8" y="499.8" width="13.9" height="1.9" fill="rgb(68, 88, 232)" opacity="0.18"/>
<rect x="471.8" y="501.8" width="13.9" height="0.9" fill="#fff" opacity="0.15"/>
<rect x="471.8" y="505.3" width="13.9" height="1.4" fill="rgb(68, 88, 232)" opacity="0.06"/>
<rect x="471.8" y="506.7" width="13.9" height="1.3" fill="#fff" opacity="0.09"/>
<rect x="471.8" y="510.5" width="13.9" height="1.4" fill="rgb(68, 88, 232)" opacity="0.06"/>
<rect x="471.8" y="511.9" width="13.9" height="1.5" fill="#fff" opacity="0.07"/>
<rect x="471.8" y="514.9" width="13.9" height="2.1" fill="rgb(68, 88, 232)" opacity="0.08"/>
<rect x="471.8" y="517.0" width="13.9" height="0.8" fill="#fff" opacity="0.18"/>
<rect x="471.5" y="336.5" width="14.5" height="12.0" rx="1.5" fill="rgb(68, 88, 232)" opacity="0.92"/>
<rect x="471.5" y="489.8" width="14.5" height="10.0" rx="1.5" fill="rgb(68, 88, 232)" opacity="0.95"/>
</g>
<g transform="matrix(1,0,0.02616,1,-9.026,0)">
<linearGradient id="g236816241" x1="0" y1="345" x2="0" y2="517" gradientUnits="userSpaceOnUse"><stop offset="0.000" stop-color="rgb(68, 88, 232)" stop-opacity="0.024"/><stop offset="0.233" stop-color="rgb(68, 88, 232)" stop-opacity="0.08"/><stop offset="0.279" stop-color="rgb(68, 88, 232)" stop-opacity="0.35"/><stop offset="0.500" stop-color="rgb(68, 88, 232)" stop-opacity="0.4"/><stop offset="0.564" stop-color="rgb(68, 88, 232)" stop-opacity="0.5"/><stop offset="1.000" stop-color="rgb(68, 88, 232)" stop-opacity="0.45"/></linearGradient>
<rect x="489.0" y="345.0" width="14.5" height="172.0" rx="1.5" fill="url(#g236816241)"/>
<rect x="489.3" y="347.4" width="13.9" height="1.1" fill="rgb(68, 88, 232)" opacity="0.01"/>
<rect x="489.3" y="348.5" width="13.9" height="1.2" fill="#fff" opacity="0.01"/>
<rect x="489.3" y="352.4" width="13.9" height="2.2" fill="rgb(68, 88, 232)" opacity="0.01"/>
<rect x="489.3" y="354.6" width="13.9" height="1.7" fill="#fff" opacity="0.01"/>
<rect x="489.3" y="357.1" width="13.9" height="1.0" fill="rgb(68, 88, 232)" opacity="0.01"/>
<rect x="489.3" y="358.1" width="13.9" height="1.8" fill="#fff" opacity="0.01"/>
<rect x="489.3" y="362.8" width="13.9" height="1.4" fill="rgb(68, 88, 232)" opacity="0.01"/>
<rect x="489.3" y="364.2" width="13.9" height="1.2" fill="#fff" opacity="0.01"/>
<rect x="489.3" y="366.7" width="13.9" height="2.2" fill="rgb(68, 88, 232)" opacity="0.01"/>
<rect x="489.3" y="368.9" width="13.9" height="1.3" fill="#fff" opacity="0.02"/>
<rect x="489.3" y="372.5" width="13.9" height="1.7" fill="rgb(68, 88, 232)" opacity="0.02"/>
<rect x="489.3" y="374.2" width="13.9" height="1.2" fill="#fff" opacity="0.01"/>
<rect x="489.3" y="375.5" width="13.9" height="1.0" fill="rgb(68, 88, 232)" opacity="0.05"/>
<rect x="489.3" y="376.5" width="13.9" height="1.1" fill="#fff" opacity="0.03"/>
<rect x="489.3" y="381.8" width="13.9" height="1.4" fill="rgb(68, 88, 232)" opacity="0.02"/>
<rect x="489.3" y="383.3" width="13.9" height="1.3" fill="#fff" opacity="0.02"/>
<rect x="489.3" y="386.9" width="13.9" height="1.2" fill="rgb(68, 88, 232)" opacity="0.03"/>
<rect x="489.3" y="388.2" width="13.9" height="1.4" fill="#fff" opacity="0.06"/>
<rect x="489.3" y="389.8" width="13.9" height="2.5" fill="rgb(68, 88, 232)" opacity="0.11"/>
<rect x="489.3" y="392.3" width="13.9" height="1.6" fill="#fff" opacity="0.04"/>
<rect x="489.3" y="392.8" width="13.9" height="2.2" fill="rgb(68, 88, 232)" opacity="0.12"/>
<rect x="489.3" y="395.0" width="13.9" height="1.2" fill="#fff" opacity="0.08"/>
<rect x="489.3" y="396.5" width="13.9" height="1.4" fill="rgb(68, 88, 232)" opacity="0.04"/>
<rect x="489.3" y="397.9" width="13.9" height="1.2" fill="#fff" opacity="0.10"/>
<rect x="489.3" y="401.0" width="13.9" height="1.3" fill="rgb(68, 88, 232)" opacity="0.17"/>
<rect x="489.3" y="402.3" width="13.9" height="1.8" fill="#fff" opacity="0.07"/>
<rect x="489.3" y="406.9" width="13.9" height="2.0" fill="rgb(68, 88, 232)" opacity="0.15"/>
<rect x="489.3" y="408.9" width="13.9" height="1.3" fill="#fff" opacity="0.11"/>
<rect x="489.3" y="412.1" width="13.9" height="1.7" fill="rgb(68, 88, 232)" opacity="0.19"/>
<rect x="489.3" y="413.8" width="13.9" height="1.7" fill="#fff" opacity="0.09"/>
<rect x="489.3" y="417.3" width="13.9" height="1.6" fill="rgb(68, 88, 232)" opacity="0.09"/>
<rect x="489.3" y="418.9" width="13.9" height="1.2" fill="#fff" opacity="0.09"/>
<rect x="489.3" y="421.2" width="13.9" height="1.3" fill="rgb(68, 88, 232)" opacity="0.34"/>
<rect x="489.3" y="422.5" width="13.9" height="1.3" fill="#fff" opacity="0.08"/>
<rect x="489.3" y="427.7" width="13.9" height="1.3" fill="rgb(68, 88, 232)" opacity="0.25"/>
<rect x="489.3" y="428.9" width="13.9" height="1.6" fill="#fff" opacity="0.16"/>
<rect x="489.3" y="433.1" width="13.9" height="2.2" fill="rgb(68, 88, 232)" opacity="0.16"/>
<rect x="489.3" y="435.2" width="13.9" height="1.0" fill="#fff" opacity="0.08"/>
<rect x="489.3" y="436.7" width="13.9" height="2.1" fill="rgb(68, 88, 232)" opacity="0.15"/>
<rect x="489.3" y="438.8" width="13.9" height="1.0" fill="#fff" opacity="0.11"/>
<rect x="489.3" y="439.8" width="13.9" height="1.0" fill="rgb(68, 88, 232)" opacity="0.31"/>
<rect x="489.3" y="440.8" width="13.9" height="1.3" fill="#fff" opacity="0.19"/>
<rect x="489.3" y="444.1" width="13.9" height="2.5" fill="rgb(68, 88, 232)" opacity="0.30"/>
<rect x="489.3" y="446.5" width="13.9" height="1.1" fill="#fff" opacity="0.12"/>
<rect x="489.3" y="448.3" width="13.9" height="2.0" fill="rgb(68, 88, 232)" opacity="0.45"/>
<rect x="489.3" y="450.3" width="13.9" height="0.9" fill="#fff" opacity="0.14"/>
<rect x="489.3" y="454.2" width="13.9" height="2.2" fill="rgb(68, 88, 232)" opacity="0.04"/>
<rect x="489.3" y="456.4" width="13.9" height="1.5" fill="#fff" opacity="0.11"/>
<rect x="489.3" y="457.8" width="13.9" height="1.9" fill="rgb(68, 88, 232)" opacity="0.44"/>
<rect x="489.3" y="459.7" width="13.9" height="0.8" fill="#fff" opacity="0.18"/>
<rect x="489.3" y="462.3" width="13.9" height="1.9" fill="rgb(68, 88, 232)" opacity="0.43"/>
<rect x="489.3" y="464.3" width="13.9" height="1.2" fill="#fff" opacity="0.21"/>
<rect x="489.3" y="466.6" width="13.9" height="2.5" fill="rgb(68, 88, 232)" opacity="0.05"/>
<rect x="489.3" y="469.2" width="13.9" height="1.2" fill="#fff" opacity="0.11"/>
<rect x="489.3" y="471.7" width="13.9" height="2.3" fill="rgb(68, 88, 232)" opacity="0.36"/>
<rect x="489.3" y="474.1" width="13.9" height="1.6" fill="#fff" opacity="0.20"/>
<rect x="489.3" y="475.5" width="13.9" height="1.9" fill="rgb(68, 88, 232)" opacity="0.12"/>
<rect x="489.3" y="477.5" width="13.9" height="1.1" fill="#fff" opacity="0.09"/>
<rect x="489.3" y="479.6" width="13.9" height="2.2" fill="rgb(68, 88, 232)" opacity="0.30"/>
<rect x="489.3" y="481.7" width="13.9" height="0.8" fill="#fff" opacity="0.19"/>
<rect x="489.3" y="485.2" width="13.9" height="1.2" fill="rgb(68, 88, 232)" opacity="0.07"/>
<rect x="489.3" y="486.4" width="13.9" height="0.9" fill="#fff" opacity="0.16"/>
<rect x="489.3" y="488.9" width="13.9" height="1.3" fill="rgb(68, 88, 232)" opacity="0.07"/>
<rect x="489.3" y="490.2" width="13.9" height="1.4" fill="#fff" opacity="0.20"/>
<rect x="489.3" y="491.9" width="13.9" height="1.0" fill="rgb(68, 88, 232)" opacity="0.36"/>
<rect x="489.3" y="492.9" width="13.9" height="1.5" fill="#fff" opacity="0.11"/>
<rect x="489.3" y="495.4" width="13.9" height="2.3" fill="rgb(68, 88, 232)" opacity="0.23"/>
<rect x="489.3" y="497.7" width="13.9" height="1.3" fill="#fff" opacity="0.10"/>
<rect x="489.3" y="499.8" width="13.9" height="1.7" fill="rgb(68, 88, 232)" opacity="0.10"/>
<rect x="489.3" y="501.5" width="13.9" height="0.9" fill="#fff" opacity="0.09"/>
<rect x="489.3" y="505.3" width="13.9" height="1.4" fill="rgb(68, 88, 232)" opacity="0.09"/>
<rect x="489.3" y="506.8" width="13.9" height="1.4" fill="#fff" opacity="0.17"/>
<rect x="489.3" y="510.5" width="13.9" height="1.2" fill="rgb(68, 88, 232)" opacity="0.06"/>
<rect x="489.3" y="511.7" width="13.9" height="1.7" fill="#fff" opacity="0.14"/>
<rect x="489.3" y="514.9" width="13.9" height="1.4" fill="rgb(68, 88, 232)" opacity="0.09"/>
<rect x="489.3" y="516.2" width="13.9" height="1.5" fill="#fff" opacity="0.13"/>
<rect x="489.0" y="431.5" width="14.5" height="9.0" rx="1.5" fill="rgb(68, 88, 232)" opacity="0.95"/>
<rect x="489.0" y="488.9" width="14.5" height="3.5" rx="1.5" fill="rgb(68, 88, 232)" opacity="0.75"/>
</g>
<g transform="matrix(1,0,0.01818,1,-6.273,0)">
<linearGradient id="g425859202" x1="0" y1="345" x2="0" y2="510" gradientUnits="userSpaceOnUse"><stop offset="0.000" stop-color="rgb(68, 88, 232)" stop-opacity="0.024"/><stop offset="0.485" stop-color="rgb(68, 88, 232)" stop-opacity="0.06"/><stop offset="0.515" stop-color="rgb(68, 88, 232)" stop-opacity="0.1"/><stop offset="0.576" stop-color="rgb(68, 88, 232)" stop-opacity="0.12"/><stop offset="1.000" stop-color="rgb(68, 88, 232)" stop-opacity="0.1"/></linearGradient>
<rect x="507.0" y="345.0" width="16.0" height="165.0" rx="1.5" fill="url(#g425859202)"/>
<rect x="507.3" y="347.4" width="15.4" height="1.3" fill="rgb(68, 88, 232)" opacity="0.01"/>
<rect x="507.3" y="348.7" width="15.4" height="1.7" fill="#fff" opacity="0.01"/>
<rect x="507.3" y="352.4" width="15.4" height="1.7" fill="rgb(68, 88, 232)" opacity="0.01"/>
<rect x="507.3" y="354.0" width="15.4" height="1.3" fill="#fff" opacity="0.01"/>
<rect x="507.3" y="357.1" width="15.4" height="2.5" fill="rgb(68, 88, 232)" opacity="0.02"/>
<rect x="507.3" y="359.6" width="15.4" height="1.1" fill="#fff" opacity="0.01"/>
<rect x="507.3" y="362.8" width="15.4" height="1.5" fill="rgb(68, 88, 232)" opacity="0.01"/>
<rect x="507.3" y="364.3" width="15.4" height="1.8" fill="#fff" opacity="0.01"/>
<rect x="507.3" y="366.7" width="15.4" height="2.5" fill="rgb(68, 88, 232)" opacity="0.01"/>
<rect x="507.3" y="369.2" width="15.4" height="1.6" fill="#fff" opacity="0.01"/>
<rect x="507.3" y="372.5" width="15.4" height="1.8" fill="rgb(68, 88, 232)" opacity="0.03"/>
<rect x="507.3" y="374.3" width="15.4" height="1.7" fill="#fff" opacity="0.01"/>
<rect x="507.3" y="375.5" width="15.4" height="1.7" fill="rgb(68, 88, 232)" opacity="0.03"/>
<rect x="507.3" y="377.1" width="15.4" height="1.2" fill="#fff" opacity="0.01"/>
<rect x="507.3" y="381.8" width="15.4" height="1.1" fill="rgb(68, 88, 232)" opacity="0.02"/>
<rect x="507.3" y="382.9" width="15.4" height="1.3" fill="#fff" opacity="0.01"/>
<rect x="507.3" y="386.9" width="15.4" height="1.2" fill="rgb(68, 88, 232)" opacity="0.01"/>
<rect x="507.3" y="388.1" width="15.4" height="1.6" fill="#fff" opacity="0.02"/>
<rect x="507.3" y="389.8" width="15.4" height="2.0" fill="rgb(68, 88, 232)" opacity="0.02"/>
<rect x="507.3" y="391.8" width="15.4" height="1.7" fill="#fff" opacity="0.02"/>
<rect x="507.3" y="392.8" width="15.4" height="1.1" fill="rgb(68, 88, 232)" opacity="0.01"/>
<rect x="507.3" y="393.8" width="15.4" height="1.1" fill="#fff" opacity="0.02"/>
<rect x="507.3" y="396.5" width="15.4" height="1.4" fill="rgb(68, 88, 232)" opacity="0.01"/>
<rect x="507.3" y="397.9" width="15.4" height="1.7" fill="#fff" opacity="0.02"/>
<rect x="507.3" y="401.0" width="15.4" height="1.4" fill="rgb(68, 88, 232)" opacity="0.02"/>
<rect x="507.3" y="402.4" width="15.4" height="1.2" fill="#fff" opacity="0.02"/>
<rect x="507.3" y="406.9" width="15.4" height="1.5" fill="rgb(68, 88, 232)" opacity="0.02"/>
<rect x="507.3" y="408.4" width="15.4" height="1.4" fill="#fff" opacity="0.01"/>
<rect x="507.3" y="412.1" width="15.4" height="2.0" fill="rgb(68, 88, 232)" opacity="0.03"/>
<rect x="507.3" y="414.0" width="15.4" height="1.3" fill="#fff" opacity="0.01"/>
<rect x="507.3" y="417.3" width="15.4" height="1.7" fill="rgb(68, 88, 232)" opacity="0.02"/>
<rect x="507.3" y="419.1" width="15.4" height="0.9" fill="#fff" opacity="0.01"/>
<rect x="507.3" y="421.2" width="15.4" height="1.2" fill="rgb(68, 88, 232)" opacity="0.03"/>
<rect x="507.3" y="422.4" width="15.4" height="1.2" fill="#fff" opacity="0.01"/>
<rect x="507.3" y="427.7" width="15.4" height="1.4" fill="rgb(68, 88, 232)" opacity="0.03"/>
<rect x="507.3" y="429.0" width="15.4" height="1.3" fill="#fff" opacity="0.03"/>
<rect x="507.3" y="433.1" width="15.4" height="2.0" fill="rgb(68, 88, 232)" opacity="0.03"/>
<rect x="507.3" y="435.0" width="15.4" height="1.5" fill="#fff" opacity="0.02"/>
<rect x="507.3" y="436.7" width="15.4" height="2.1" fill="rgb(68, 88, 232)" opacity="0.03"/>
<rect x="507.3" y="438.9" width="15.4" height="1.3" fill="#fff" opacity="0.04"/>
<rect x="507.3" y="439.8" width="15.4" height="1.8" fill="rgb(68, 88, 232)" opacity="0.05"/>
<rect x="507.3" y="441.5" width="15.4" height="1.0" fill="#fff" opacity="0.03"/>
<rect x="507.3" y="444.1" width="15.4" height="1.8" fill="rgb(68, 88, 232)" opacity="0.06"/>
<rect x="507.3" y="445.9" width="15.4" height="1.4" fill="#fff" opacity="0.02"/>
<rect x="507.3" y="448.3" width="15.4" height="1.6" fill="rgb(68, 88, 232)" opacity="0.10"/>
<rect x="507.3" y="449.9" width="15.4" height="1.0" fill="#fff" opacity="0.04"/>
<rect x="507.3" y="454.2" width="15.4" height="1.8" fill="rgb(68, 88, 232)" opacity="0.01"/>
<rect x="507.3" y="456.0" width="15.4" height="1.8" fill="#fff" opacity="0.03"/>
<rect x="507.3" y="457.8" width="15.4" height="2.2" fill="rgb(68, 88, 232)" opacity="0.05"/>
<rect x="507.3" y="460.0" width="15.4" height="0.9" fill="#fff" opacity="0.05"/>
<rect x="507.3" y="462.3" width="15.4" height="1.7" fill="rgb(68, 88, 232)" opacity="0.05"/>
<rect x="507.3" y="464.0" width="15.4" height="1.2" fill="#fff" opacity="0.03"/>
<rect x="507.3" y="466.6" width="15.4" height="2.2" fill="rgb(68, 88, 232)" opacity="0.01"/>
<rect x="507.3" y="468.8" width="15.4" height="1.0" fill="#fff" opacity="0.05"/>
<rect x="507.3" y="471.7" width="15.4" height="2.2" fill="rgb(68, 88, 232)" opacity="0.04"/>
<rect x="507.3" y="473.9" width="15.4" height="1.1" fill="#fff" opacity="0.03"/>
<rect x="507.3" y="475.5" width="15.4" height="2.1" fill="rgb(68, 88, 232)" opacity="0.02"/>
<rect x="507.3" y="477.6" width="15.4" height="1.6" fill="#fff" opacity="0.04"/>
<rect x="507.3" y="479.6" width="15.4" height="1.8" fill="rgb(68, 88, 232)" opacity="0.09"/>
<rect x="507.3" y="481.4" width="15.4" height="1.5" fill="#fff" opacity="0.04"/>
<rect x="507.3" y="485.2" width="15.4" height="1.8" fill="rgb(68, 88, 232)" opacity="0.03"/>
<rect x="507.3" y="486.9" width="15.4" height="1.5" fill="#fff" opacity="0.05"/>
<rect x="507.3" y="488.9" width="15.4" height="1.2" fill="rgb(68, 88, 232)" opacity="0.03"/>
<rect x="507.3" y="490.1" width="15.4" height="0.8" fill="#fff" opacity="0.04"/>
<rect x="507.3" y="491.9" width="15.4" height="1.9" fill="rgb(68, 88, 232)" opacity="0.06"/>
<rect x="507.3" y="493.8" width="15.4" height="1.8" fill="#fff" opacity="0.03"/>
<rect x="507.3" y="495.4" width="15.4" height="1.7" fill="rgb(68, 88, 232)" opacity="0.06"/>
<rect x="507.3" y="497.0" width="15.4" height="1.7" fill="#fff" opacity="0.03"/>
<rect x="507.3" y="499.8" width="15.4" height="1.6" fill="rgb(68, 88, 232)" opacity="0.02"/>
<rect x="507.3" y="501.4" width="15.4" height="1.3" fill="#fff" opacity="0.04"/>
<rect x="507.3" y="505.3" width="15.4" height="1.5" fill="rgb(68, 88, 232)" opacity="0.02"/>
<rect x="507.3" y="506.8" width="15.4" height="1.4" fill="#fff" opacity="0.03"/>
<rect x="507.0" y="431.2" width="16.0" height="7.5" rx="1.5" fill="rgb(68, 88, 232)" opacity="0.92"/>
<rect x="507.0" y="465.0" width="16.0" height="2.0" rx="1.5" fill="rgb(68, 88, 232)" opacity="0.2"/>
<rect x="507.0" y="486.8" width="16.0" height="2.5" rx="1.5" fill="rgb(68, 88, 232)" opacity="0.25"/>
</g>
<path d="M300.5,403 C303,400 310,400 312.5,403 L313,416 C313,424 300,426 299.5,417 Z" fill="#6a58e0" opacity="0.8"/>
<ellipse cx="305" cy="471" rx="6.5" ry="6" fill="#7890e8" opacity="0.35"/>
<ellipse cx="305" cy="507" rx="6" ry="6" fill="#7890e8" opacity="0.35"/>
</g>
<text x="108.60" y="559.40" font-size="20.8" font-weight="bold" textLength="12.00" lengthAdjust="spacingAndGlyphs" fill="#000" stroke="#000" stroke-width="0.5">C</text>
<text x="301.25" y="548.20" font-size="13" font-weight="bold" text-anchor="middle" textLength="165.50" lengthAdjust="spacingAndGlyphs" fill="#111" stroke="#111" stroke-width="0.35">Total Pn protein expression</text>
<text x="302.00" y="562.70" font-size="13" font-weight="bold" text-anchor="middle" textLength="129.50" lengthAdjust="spacingAndGlyphs" fill="#111" stroke="#111" stroke-width="0.35">in 10μg protein lysate</text>
<text x="170.10" y="687.00" font-size="8.3" font-weight="bold" text-anchor="end" textLength="4.55" lengthAdjust="spacingAndGlyphs" fill="#111" stroke="#111" stroke-width="0.3">0</text>
<text x="170.10" y="666.30" font-size="8.3" font-weight="bold" text-anchor="end" textLength="13.65" lengthAdjust="spacingAndGlyphs" fill="#111" stroke="#111" stroke-width="0.3">250</text>
<text x="170.10" y="645.60" font-size="8.3" font-weight="bold" text-anchor="end" textLength="13.65" lengthAdjust="spacingAndGlyphs" fill="#111" stroke="#111" stroke-width="0.3">500</text>
<text x="170.10" y="624.90" font-size="8.3" font-weight="bold" text-anchor="end" textLength="13.65" lengthAdjust="spacingAndGlyphs" fill="#111" stroke="#111" stroke-width="0.3">750</text>
<text x="170.10" y="604.20" font-size="8.3" font-weight="bold" text-anchor="end" textLength="18.20" lengthAdjust="spacingAndGlyphs" fill="#111" stroke="#111" stroke-width="0.3">1000</text>
<text x="170.10" y="583.50" font-size="8.3" font-weight="bold" text-anchor="end" textLength="18.20" lengthAdjust="spacingAndGlyphs" fill="#111" stroke="#111" stroke-width="0.3">1250</text>
<text x="170.10" y="562.80" font-size="8.3" font-weight="bold" text-anchor="end" textLength="18.20" lengthAdjust="spacingAndGlyphs" fill="#111" stroke="#111" stroke-width="0.3">1500</text>
<text transform="translate(140.40,621.50) rotate(-90)" x="0" y="0" font-size="9.4" font-weight="bold" text-anchor="middle" textLength="89.00" lengthAdjust="spacingAndGlyphs" fill="#111" stroke="#111" stroke-width="0.4">Relative expression</text>
<rect x="178.36" y="683.75" width="8.20" height="0.25" fill="#3a3a3a"/>
<rect x="195.88" y="683.75" width="8.20" height="0.25" fill="#3a3a3a"/>
<line x1="217.51" y1="675.72" x2="217.51" y2="675.97" stroke="#888" stroke-width="0.7"/>
<line x1="216.01" y1="675.72" x2="219.01" y2="675.72" stroke="#888" stroke-width="0.7"/>
<rect x="213.41" y="675.97" width="8.20" height="8.03" fill="#3a3a3a"/>
<line x1="235.03" y1="679.45" x2="235.03" y2="681.93" stroke="#888" stroke-width="0.7"/>
<line x1="233.53" y1="679.45" x2="236.53" y2="679.45" stroke="#888" stroke-width="0.7"/>
<rect x="230.93" y="681.93" width="8.20" height="2.07" fill="#3a3a3a"/>
<rect x="248.45" y="683.75" width="8.20" height="0.25" fill="#3a3a3a"/>
<line x1="270.08" y1="681.93" x2="270.08" y2="683.01" stroke="#888" stroke-width="0.7"/>
<line x1="268.58" y1="681.93" x2="271.58" y2="681.93" stroke="#888" stroke-width="0.7"/>
<rect x="265.98" y="683.01" width="8.20" height="0.99" fill="#3a3a3a"/>
<line x1="287.60" y1="621.90" x2="287.60" y2="635.07" stroke="#888" stroke-width="0.7"/>
<line x1="286.10" y1="621.90" x2="289.10" y2="621.90" stroke="#888" stroke-width="0.7"/>
<rect x="283.50" y="635.07" width="8.20" height="48.93" fill="#3a3a3a"/>
<line x1="305.12" y1="662.80" x2="305.12" y2="667.44" stroke="#888" stroke-width="0.7"/>
<line x1="303.62" y1="662.80" x2="306.62" y2="662.80" stroke="#888" stroke-width="0.7"/>
<rect x="301.02" y="667.44" width="8.20" height="16.56" fill="#3a3a3a"/>
<line x1="322.65" y1="577.35" x2="322.65" y2="604.51" stroke="#888" stroke-width="0.7"/>
<line x1="321.15" y1="577.35" x2="324.15" y2="577.35" stroke="#888" stroke-width="0.7"/>
<rect x="318.55" y="604.51" width="8.20" height="79.49" fill="#3a3a3a"/>
<line x1="340.17" y1="677.54" x2="340.17" y2="679.61" stroke="#888" stroke-width="0.7"/>
<line x1="338.67" y1="677.54" x2="341.67" y2="677.54" stroke="#888" stroke-width="0.7"/>
<rect x="336.07" y="679.61" width="8.20" height="4.39" fill="#3a3a3a"/>
<line x1="357.69" y1="682.51" x2="357.69" y2="682.92" stroke="#888" stroke-width="0.7"/>
<line x1="356.19" y1="682.51" x2="359.19" y2="682.51" stroke="#888" stroke-width="0.7"/>
<rect x="353.59" y="682.92" width="8.20" height="1.08" fill="#3a3a3a"/>
<line x1="375.22" y1="624.05" x2="375.22" y2="634.32" stroke="#888" stroke-width="0.7"/>
<line x1="373.72" y1="624.05" x2="376.72" y2="624.05" stroke="#888" stroke-width="0.7"/>
<rect x="371.12" y="634.32" width="8.20" height="49.68" fill="#3a3a3a"/>
<line x1="392.74" y1="675.31" x2="392.74" y2="679.61" stroke="#888" stroke-width="0.7"/>
<line x1="391.24" y1="675.31" x2="394.24" y2="675.31" stroke="#888" stroke-width="0.7"/>
<rect x="388.64" y="679.61" width="8.20" height="4.39" fill="#3a3a3a"/>
<path d="M173.70,558.80 V684.00 H401.50" fill="none" stroke="#9a9a9a" stroke-width="1"/>
<text transform="translate(184.70,728.70) rotate(-90)" x="0" y="0" font-size="9" font-weight="bold" textLength="37.60" lengthAdjust="spacingAndGlyphs" fill="#111" stroke="#111" stroke-width="0.4">Cerebrum</text>
<text transform="translate(202.50,733.80) rotate(-90)" x="0" y="0" font-size="9" font-weight="bold" textLength="43.40" lengthAdjust="spacingAndGlyphs" fill="#111" stroke="#111" stroke-width="0.4">Cerebellum</text>
<text transform="translate(220.00,715.30) rotate(-90)" x="0" y="0" font-size="9" font-weight="bold" textLength="18.30" lengthAdjust="spacingAndGlyphs" fill="#111" stroke="#111" stroke-width="0.4">Lung</text>
<text transform="translate(236.60,715.30) rotate(-90)" x="0" y="0" font-size="9" font-weight="bold" textLength="18.30" lengthAdjust="spacingAndGlyphs" fill="#111" stroke="#111" stroke-width="0.4">Liver</text>
<text transform="translate(254.00,720.70) rotate(-90)" x="0" y="0" font-size="9" font-weight="bold" textLength="25.30" lengthAdjust="spacingAndGlyphs" fill="#111" stroke="#111" stroke-width="0.4">Kidney</text>
<text transform="translate(271.80,721.80) rotate(-90)" x="0" y="0" font-size="9" font-weight="bold" textLength="26.40" lengthAdjust="spacingAndGlyphs" fill="#111" stroke="#111" stroke-width="0.4">Spleen</text>
<text transform="translate(289.50,726.60) rotate(-90)" x="0" y="0" font-size="9" font-weight="bold" textLength="33.30" lengthAdjust="spacingAndGlyphs" fill="#111" stroke="#111" stroke-width="0.4">Stomach</text>
<text transform="translate(308.00,742.50) rotate(-90)" x="0" y="0" font-size="9" font-weight="bold" textLength="54.90" lengthAdjust="spacingAndGlyphs" fill="#111" stroke="#111" stroke-width="0.4">Small intestine</text>
<text transform="translate(325.50,718.50) rotate(-90)" x="0" y="0" font-size="9" font-weight="bold" textLength="22.20" lengthAdjust="spacingAndGlyphs" fill="#111" stroke="#111" stroke-width="0.4">Colon</text>
<text transform="translate(342.50,718.50) rotate(-90)" x="0" y="0" font-size="9" font-weight="bold" textLength="21.50" lengthAdjust="spacingAndGlyphs" fill="#111" stroke="#111" stroke-width="0.4">Heart</text>
<text transform="translate(360.70,744.70) rotate(-90)" x="0" y="0" font-size="9" font-weight="bold" textLength="57.60" lengthAdjust="spacingAndGlyphs" fill="#111" stroke="#111" stroke-width="0.4">Skeletal muscle</text>
<text transform="translate(378.00,714.80) rotate(-90)" x="0" y="0" font-size="9" font-weight="bold" textLength="16.30" lengthAdjust="spacingAndGlyphs" fill="#111" stroke="#111" stroke-width="0.4">Skin</text>
<text transform="translate(396.00,718.50) rotate(-90)" x="0" y="0" font-size="9" font-weight="bold" textLength="19.40" lengthAdjust="spacingAndGlyphs" fill="#111" stroke="#111" stroke-width="0.4">Ovary</text>
</svg>
</body></html>
